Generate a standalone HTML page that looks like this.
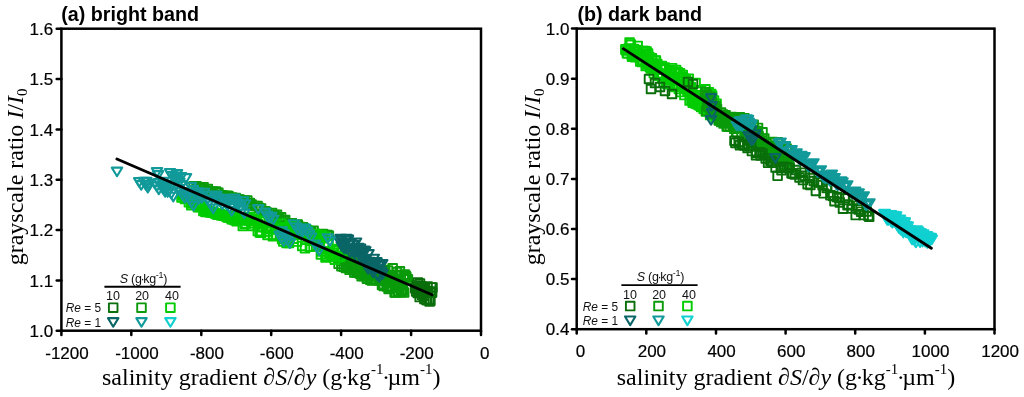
<!DOCTYPE html>
<html><head><meta charset="utf-8"><style>
html,body{margin:0;padding:0;background:#fff;width:1024px;height:397px;overflow:hidden}
svg{display:block}
.q{fill:none;stroke-width:1.9;stroke-linejoin:round}
.t{fill:none;stroke-width:2.1;stroke-linejoin:round}
.dg{stroke:#0a6e0a}
.mg{stroke:#0a9a0a}
.bg{stroke:#00cc00}
.dt{stroke:#0a6666}
.mt{stroke:#129a9a}
.cy{stroke:#10d0d0}
.ax{stroke:#000;stroke-width:2.5;stroke-linecap:round}
.tk{font-family:"Liberation Sans",Arial,sans-serif;font-size:17px;fill:#000;stroke:#000;stroke-width:0.2px}
.lg{font-family:"Liberation Sans",Arial,sans-serif;font-size:12.5px;fill:#111}
.lg2{font-family:"Liberation Sans",Arial,sans-serif;font-size:11.9px;fill:#111}
.ti{font-family:"Liberation Sans",Arial,sans-serif;font-size:19.7px;font-weight:bold;fill:#000}
.al{font-family:"Liberation Serif","Times New Roman",serif;font-size:24px;fill:#000}
</style></head><body>
<svg width="1024" height="397" viewBox="0 0 1024 397">
<path class="q mg" d="M189.4 182.0h8.6v8.6h-8.6z"/>
<path class="q mg" d="M192.2 182.0h8.6v8.6h-8.6z"/>
<path class="q mg" d="M194.0 183.4h8.6v8.6h-8.6z"/>
<path class="q mg" d="M195.1 184.1h8.6v8.6h-8.6z"/>
<path class="q mg" d="M197.1 184.0h8.6v8.6h-8.6z"/>
<path class="q mg" d="M199.3 182.9h8.6v8.6h-8.6z"/>
<path class="q mg" d="M202.1 186.5h8.6v8.6h-8.6z"/>
<path class="q mg" d="M203.6 184.7h8.6v8.6h-8.6z"/>
<path class="q mg" d="M206.7 188.3h8.6v8.6h-8.6z"/>
<path class="q mg" d="M208.7 187.2h8.6v8.6h-8.6z"/>
<path class="q mg" d="M211.7 187.2h8.6v8.6h-8.6z"/>
<path class="q mg" d="M213.5 188.6h8.6v8.6h-8.6z"/>
<path class="q mg" d="M214.1 188.4h8.6v8.6h-8.6z"/>
<path class="q mg" d="M216.5 191.0h8.6v8.6h-8.6z"/>
<path class="q mg" d="M218.4 191.1h8.6v8.6h-8.6z"/>
<path class="q mg" d="M221.4 191.6h8.6v8.6h-8.6z"/>
<path class="q mg" d="M223.3 191.4h8.6v8.6h-8.6z"/>
<path class="q mg" d="M224.4 191.9h8.6v8.6h-8.6z"/>
<path class="q mg" d="M227.8 193.2h8.6v8.6h-8.6z"/>
<path class="q mg" d="M229.1 193.9h8.6v8.6h-8.6z"/>
<path class="q mg" d="M231.5 193.7h8.6v8.6h-8.6z"/>
<path class="q mg" d="M234.3 195.4h8.6v8.6h-8.6z"/>
<path class="q mg" d="M235.2 195.3h8.6v8.6h-8.6z"/>
<path class="q mg" d="M237.9 197.2h8.6v8.6h-8.6z"/>
<path class="q mg" d="M240.4 196.1h8.6v8.6h-8.6z"/>
<path class="q mg" d="M243.0 196.3h8.6v8.6h-8.6z"/>
<path class="q mg" d="M243.9 199.1h8.6v8.6h-8.6z"/>
<path class="q mg" d="M245.5 198.6h8.6v8.6h-8.6z"/>
<path class="q mg" d="M247.3 200.2h8.6v8.6h-8.6z"/>
<path class="q mg" d="M250.9 201.6h8.6v8.6h-8.6z"/>
<path class="q mg" d="M253.3 201.7h8.6v8.6h-8.6z"/>
<path class="q mg" d="M255.0 203.7h8.6v8.6h-8.6z"/>
<path class="q mg" d="M256.8 204.1h8.6v8.6h-8.6z"/>
<path class="q mg" d="M259.5 207.4h8.6v8.6h-8.6z"/>
<path class="q mg" d="M260.8 206.9h8.6v8.6h-8.6z"/>
<path class="q mg" d="M262.0 207.7h8.6v8.6h-8.6z"/>
<path class="q mg" d="M265.3 210.5h8.6v8.6h-8.6z"/>
<path class="q mg" d="M267.8 208.8h8.6v8.6h-8.6z"/>
<path class="q mg" d="M269.0 210.9h8.6v8.6h-8.6z"/>
<path class="q mg" d="M270.3 210.8h8.6v8.6h-8.6z"/>
<path class="q mg" d="M272.7 210.5h8.6v8.6h-8.6z"/>
<path class="q mg" d="M274.6 214.0h8.6v8.6h-8.6z"/>
<path class="q mg" d="M276.8 213.0h8.6v8.6h-8.6z"/>
<path class="q mg" d="M279.4 216.8h8.6v8.6h-8.6z"/>
<path class="q mg" d="M280.9 215.8h8.6v8.6h-8.6z"/>
<path class="q mg" d="M283.9 219.0h8.6v8.6h-8.6z"/>
<path class="q mg" d="M286.6 220.2h8.6v8.6h-8.6z"/>
<path class="q mg" d="M287.6 218.9h8.6v8.6h-8.6z"/>
<path class="q mg" d="M289.8 221.8h8.6v8.6h-8.6z"/>
<path class="q mg" d="M293.2 220.3h8.6v8.6h-8.6z"/>
<path class="q mg" d="M293.6 220.8h8.6v8.6h-8.6z"/>
<path class="q mg" d="M295.8 222.7h8.6v8.6h-8.6z"/>
<path class="q mg" d="M298.7 222.9h8.6v8.6h-8.6z"/>
<path class="q mg" d="M299.5 223.9h8.6v8.6h-8.6z"/>
<path class="q mg" d="M302.4 225.6h8.6v8.6h-8.6z"/>
<path class="q mg" d="M305.7 227.5h8.6v8.6h-8.6z"/>
<path class="q mg" d="M306.9 227.6h8.6v8.6h-8.6z"/>
<path class="q mg" d="M309.3 226.4h8.6v8.6h-8.6z"/>
<path class="q mg" d="M311.9 230.3h8.6v8.6h-8.6z"/>
<path class="q mg" d="M313.9 231.2h8.6v8.6h-8.6z"/>
<path class="q mg" d="M315.0 230.0h8.6v8.6h-8.6z"/>
<path class="q mg" d="M316.5 231.4h8.6v8.6h-8.6z"/>
<path class="q mg" d="M318.5 229.7h8.6v8.6h-8.6z"/>
<path class="q mg" d="M320.9 230.6h8.6v8.6h-8.6z"/>
<path class="q mg" d="M323.2 230.8h8.6v8.6h-8.6z"/>
<path class="q mg" d="M324.6 231.5h8.6v8.6h-8.6z"/>
<path class="q mg" d="M333.8 253.5h8.6v8.6h-8.6z"/>
<path class="q mg" d="M334.3 259.5h8.6v8.6h-8.6z"/>
<path class="q mg" d="M335.2 251.8h8.6v8.6h-8.6z"/>
<path class="q mg" d="M335.6 254.2h8.6v8.6h-8.6z"/>
<path class="q mg" d="M336.2 252.1h8.6v8.6h-8.6z"/>
<path class="q mg" d="M337.1 262.0h8.6v8.6h-8.6z"/>
<path class="q mg" d="M337.5 256.6h8.6v8.6h-8.6z"/>
<path class="q mg" d="M337.8 252.7h8.6v8.6h-8.6z"/>
<path class="q mg" d="M338.6 254.8h8.6v8.6h-8.6z"/>
<path class="q mg" d="M339.4 254.1h8.6v8.6h-8.6z"/>
<path class="q mg" d="M339.5 262.5h8.6v8.6h-8.6z"/>
<path class="q mg" d="M340.4 254.5h8.6v8.6h-8.6z"/>
<path class="q mg" d="M341.0 253.5h8.6v8.6h-8.6z"/>
<path class="q mg" d="M341.6 263.6h8.6v8.6h-8.6z"/>
<path class="q mg" d="M342.4 261.1h8.6v8.6h-8.6z"/>
<path class="q mg" d="M342.6 257.8h8.6v8.6h-8.6z"/>
<path class="q mg" d="M343.1 262.2h8.6v8.6h-8.6z"/>
<path class="q mg" d="M343.9 262.6h8.6v8.6h-8.6z"/>
<path class="q mg" d="M344.4 257.2h8.6v8.6h-8.6z"/>
<path class="q mg" d="M345.3 265.5h8.6v8.6h-8.6z"/>
<path class="q mg" d="M345.9 263.9h8.6v8.6h-8.6z"/>
<path class="q mg" d="M346.4 263.5h8.6v8.6h-8.6z"/>
<path class="q mg" d="M346.7 261.3h8.6v8.6h-8.6z"/>
<path class="q mg" d="M347.3 256.3h8.6v8.6h-8.6z"/>
<path class="q mg" d="M347.7 259.2h8.6v8.6h-8.6z"/>
<path class="q mg" d="M348.4 264.1h8.6v8.6h-8.6z"/>
<path class="q mg" d="M349.4 261.8h8.6v8.6h-8.6z"/>
<path class="q mg" d="M350.0 268.3h8.6v8.6h-8.6z"/>
<path class="q mg" d="M350.6 261.4h8.6v8.6h-8.6z"/>
<path class="q mg" d="M350.7 259.8h8.6v8.6h-8.6z"/>
<path class="q mg" d="M351.3 259.8h8.6v8.6h-8.6z"/>
<path class="q mg" d="M352.1 268.5h8.6v8.6h-8.6z"/>
<path class="q mg" d="M352.9 263.8h8.6v8.6h-8.6z"/>
<path class="q mg" d="M353.3 267.9h8.6v8.6h-8.6z"/>
<path class="q mg" d="M353.6 266.3h8.6v8.6h-8.6z"/>
<path class="q mg" d="M354.6 268.4h8.6v8.6h-8.6z"/>
<path class="q mg" d="M355.1 264.8h8.6v8.6h-8.6z"/>
<path class="q mg" d="M355.4 268.9h8.6v8.6h-8.6z"/>
<path class="q mg" d="M356.1 269.4h8.6v8.6h-8.6z"/>
<path class="q mg" d="M357.0 264.6h8.6v8.6h-8.6z"/>
<path class="q mg" d="M357.3 272.0h8.6v8.6h-8.6z"/>
<path class="q mg" d="M358.0 262.0h8.6v8.6h-8.6z"/>
<path class="q mg" d="M358.3 261.9h8.6v8.6h-8.6z"/>
<path class="q mg" d="M359.3 271.2h8.6v8.6h-8.6z"/>
<path class="q mg" d="M359.5 271.6h8.6v8.6h-8.6z"/>
<path class="q mg" d="M360.5 269.8h8.6v8.6h-8.6z"/>
<path class="q mg" d="M360.7 268.4h8.6v8.6h-8.6z"/>
<path class="q mg" d="M361.2 261.0h8.6v8.6h-8.6z"/>
<path class="q mg" d="M362.3 270.3h8.6v8.6h-8.6z"/>
<path class="q mg" d="M362.6 274.5h8.6v8.6h-8.6z"/>
<path class="q mg" d="M363.1 273.8h8.6v8.6h-8.6z"/>
<path class="q mg" d="M363.9 264.3h8.6v8.6h-8.6z"/>
<path class="q mg" d="M364.2 265.5h8.6v8.6h-8.6z"/>
<path class="q mg" d="M364.8 270.1h8.6v8.6h-8.6z"/>
<path class="q mg" d="M365.4 267.7h8.6v8.6h-8.6z"/>
<path class="q mg" d="M365.9 275.4h8.6v8.6h-8.6z"/>
<path class="q mg" d="M366.6 268.6h8.6v8.6h-8.6z"/>
<path class="q mg" d="M367.3 275.8h8.6v8.6h-8.6z"/>
<path class="q mg" d="M367.8 276.2h8.6v8.6h-8.6z"/>
<path class="q mg" d="M368.4 270.3h8.6v8.6h-8.6z"/>
<path class="q mg" d="M369.0 262.1h8.6v8.6h-8.6z"/>
<path class="q mg" d="M369.5 264.9h8.6v8.6h-8.6z"/>
<path class="q mg" d="M369.9 275.1h8.6v8.6h-8.6z"/>
<path class="q mg" d="M370.6 269.9h8.6v8.6h-8.6z"/>
<path class="q mg" d="M371.5 271.5h8.6v8.6h-8.6z"/>
<path class="q mg" d="M371.8 271.0h8.6v8.6h-8.6z"/>
<path class="q mg" d="M372.5 275.7h8.6v8.6h-8.6z"/>
<path class="q mg" d="M372.8 272.0h8.6v8.6h-8.6z"/>
<path class="q mg" d="M373.5 267.2h8.6v8.6h-8.6z"/>
<path class="q mg" d="M374.4 271.5h8.6v8.6h-8.6z"/>
<path class="q mg" d="M374.9 276.1h8.6v8.6h-8.6z"/>
<path class="q mg" d="M375.6 270.7h8.6v8.6h-8.6z"/>
<path class="q mg" d="M376.1 271.9h8.6v8.6h-8.6z"/>
<path class="q mg" d="M376.6 275.5h8.6v8.6h-8.6z"/>
<path class="q mg" d="M377.1 272.8h8.6v8.6h-8.6z"/>
<path class="q mg" d="M377.7 280.7h8.6v8.6h-8.6z"/>
<path class="q mg" d="M378.4 279.8h8.6v8.6h-8.6z"/>
<path class="q mg" d="M379.2 268.0h8.6v8.6h-8.6z"/>
<path class="q mg" d="M379.5 281.6h8.6v8.6h-8.6z"/>
<path class="q mg" d="M380.3 265.8h8.6v8.6h-8.6z"/>
<path class="q mg" d="M380.4 272.0h8.6v8.6h-8.6z"/>
<path class="q mg" d="M381.0 268.0h8.6v8.6h-8.6z"/>
<path class="q mg" d="M381.6 277.0h8.6v8.6h-8.6z"/>
<path class="q mg" d="M382.6 282.2h8.6v8.6h-8.6z"/>
<path class="q mg" d="M382.8 278.4h8.6v8.6h-8.6z"/>
<path class="q mg" d="M383.7 266.3h8.6v8.6h-8.6z"/>
<path class="q mg" d="M384.4 284.6h8.6v8.6h-8.6z"/>
<path class="q mg" d="M384.6 284.4h8.6v8.6h-8.6z"/>
<path class="q mg" d="M385.3 274.3h8.6v8.6h-8.6z"/>
<path class="q mg" d="M386.2 282.5h8.6v8.6h-8.6z"/>
<path class="q mg" d="M386.3 273.3h8.6v8.6h-8.6z"/>
<path class="q mg" d="M387.1 271.4h8.6v8.6h-8.6z"/>
<path class="q mg" d="M387.5 271.0h8.6v8.6h-8.6z"/>
<path class="q mg" d="M388.4 264.0h8.6v8.6h-8.6z"/>
<path class="q mg" d="M388.9 274.2h8.6v8.6h-8.6z"/>
<path class="q mg" d="M389.1 271.6h8.6v8.6h-8.6z"/>
<path class="q mg" d="M390.1 276.3h8.6v8.6h-8.6z"/>
<path class="q mg" d="M390.3 288.1h8.6v8.6h-8.6z"/>
<path class="q mg" d="M391.3 288.1h8.6v8.6h-8.6z"/>
<path class="q mg" d="M391.5 270.6h8.6v8.6h-8.6z"/>
<path class="q mg" d="M392.1 283.4h8.6v8.6h-8.6z"/>
<path class="q mg" d="M392.8 267.7h8.6v8.6h-8.6z"/>
<path class="q mg" d="M393.4 286.9h8.6v8.6h-8.6z"/>
<path class="q mg" d="M394.3 271.3h8.6v8.6h-8.6z"/>
<path class="q mg" d="M394.5 287.2h8.6v8.6h-8.6z"/>
<path class="q mg" d="M395.3 282.1h8.6v8.6h-8.6z"/>
<path class="q mg" d="M395.6 267.0h8.6v8.6h-8.6z"/>
<path class="q mg" d="M396.5 275.9h8.6v8.6h-8.6z"/>
<path class="q mg" d="M396.7 287.9h8.6v8.6h-8.6z"/>
<path class="q mg" d="M397.7 284.9h8.6v8.6h-8.6z"/>
<path class="q mg" d="M397.9 286.2h8.6v8.6h-8.6z"/>
<path class="q mg" d="M398.5 286.4h8.6v8.6h-8.6z"/>
<path class="q mg" d="M399.3 274.7h8.6v8.6h-8.6z"/>
<path class="q mg" d="M399.9 288.1h8.6v8.6h-8.6z"/>
<path class="q mg" d="M400.4 270.3h8.6v8.6h-8.6z"/>
<path class="q mg" d="M401.1 273.0h8.6v8.6h-8.6z"/>
<path class="q mg" d="M401.4 271.4h8.6v8.6h-8.6z"/>
<path class="q mg" d="M402.0 272.5h8.6v8.6h-8.6z"/>
<path class="q mg" d="M402.7 275.0h8.6v8.6h-8.6z"/>
<path class="q mg" d="M403.6 274.9h8.6v8.6h-8.6z"/>
<path class="q bg" d="M177.2 193.1h8.6v8.6h-8.6z"/>
<path class="q bg" d="M178.1 191.3h8.6v8.6h-8.6z"/>
<path class="q bg" d="M179.1 190.5h8.6v8.6h-8.6z"/>
<path class="q bg" d="M180.6 194.7h8.6v8.6h-8.6z"/>
<path class="q bg" d="M181.1 193.7h8.6v8.6h-8.6z"/>
<path class="q bg" d="M182.9 188.4h8.6v8.6h-8.6z"/>
<path class="q bg" d="M183.9 192.3h8.6v8.6h-8.6z"/>
<path class="q bg" d="M184.6 197.9h8.6v8.6h-8.6z"/>
<path class="q bg" d="M185.5 192.9h8.6v8.6h-8.6z"/>
<path class="q bg" d="M186.9 201.0h8.6v8.6h-8.6z"/>
<path class="q bg" d="M187.6 199.2h8.6v8.6h-8.6z"/>
<path class="q bg" d="M189.0 197.4h8.6v8.6h-8.6z"/>
<path class="q bg" d="M189.7 194.1h8.6v8.6h-8.6z"/>
<path class="q bg" d="M190.4 192.0h8.6v8.6h-8.6z"/>
<path class="q bg" d="M191.5 200.5h8.6v8.6h-8.6z"/>
<path class="q bg" d="M192.7 195.0h8.6v8.6h-8.6z"/>
<path class="q bg" d="M193.6 203.0h8.6v8.6h-8.6z"/>
<path class="q bg" d="M195.5 202.6h8.6v8.6h-8.6z"/>
<path class="q bg" d="M195.9 199.1h8.6v8.6h-8.6z"/>
<path class="q bg" d="M197.0 201.8h8.6v8.6h-8.6z"/>
<path class="q bg" d="M197.9 202.3h8.6v8.6h-8.6z"/>
<path class="q bg" d="M199.1 206.8h8.6v8.6h-8.6z"/>
<path class="q bg" d="M200.9 205.1h8.6v8.6h-8.6z"/>
<path class="q bg" d="M201.2 207.7h8.6v8.6h-8.6z"/>
<path class="q bg" d="M202.3 205.1h8.6v8.6h-8.6z"/>
<path class="q bg" d="M203.0 205.8h8.6v8.6h-8.6z"/>
<path class="q bg" d="M204.5 207.4h8.6v8.6h-8.6z"/>
<path class="q bg" d="M205.3 207.9h8.6v8.6h-8.6z"/>
<path class="q bg" d="M206.2 207.6h8.6v8.6h-8.6z"/>
<path class="q bg" d="M207.3 208.2h8.6v8.6h-8.6z"/>
<path class="q bg" d="M208.3 207.5h8.6v8.6h-8.6z"/>
<path class="q bg" d="M209.6 208.3h8.6v8.6h-8.6z"/>
<path class="q bg" d="M211.0 209.3h8.6v8.6h-8.6z"/>
<path class="q bg" d="M212.2 209.8h8.6v8.6h-8.6z"/>
<path class="q bg" d="M213.2 210.5h8.6v8.6h-8.6z"/>
<path class="q bg" d="M213.9 209.5h8.6v8.6h-8.6z"/>
<path class="q bg" d="M215.6 209.6h8.6v8.6h-8.6z"/>
<path class="q bg" d="M216.4 210.6h8.6v8.6h-8.6z"/>
<path class="q bg" d="M216.7 210.9h8.6v8.6h-8.6z"/>
<path class="q bg" d="M218.7 211.0h8.6v8.6h-8.6z"/>
<path class="q bg" d="M219.5 211.3h8.6v8.6h-8.6z"/>
<path class="q bg" d="M220.0 211.1h8.6v8.6h-8.6z"/>
<path class="q bg" d="M221.4 211.9h8.6v8.6h-8.6z"/>
<path class="q bg" d="M222.8 212.6h8.6v8.6h-8.6z"/>
<path class="q bg" d="M223.6 213.2h8.6v8.6h-8.6z"/>
<path class="q bg" d="M224.8 213.2h8.6v8.6h-8.6z"/>
<path class="q bg" d="M225.3 211.4h8.6v8.6h-8.6z"/>
<path class="q bg" d="M226.3 212.7h8.6v8.6h-8.6z"/>
<path class="q bg" d="M227.3 215.0h8.6v8.6h-8.6z"/>
<path class="q bg" d="M228.8 214.8h8.6v8.6h-8.6z"/>
<path class="q bg" d="M230.0 215.6h8.6v8.6h-8.6z"/>
<path class="q bg" d="M230.9 212.1h8.6v8.6h-8.6z"/>
<path class="q bg" d="M232.2 217.0h8.6v8.6h-8.6z"/>
<path class="q bg" d="M233.0 215.9h8.6v8.6h-8.6z"/>
<path class="q bg" d="M234.2 213.0h8.6v8.6h-8.6z"/>
<path class="q bg" d="M235.3 214.6h8.6v8.6h-8.6z"/>
<path class="q bg" d="M235.7 214.8h8.6v8.6h-8.6z"/>
<path class="q bg" d="M237.4 214.5h8.6v8.6h-8.6z"/>
<path class="q bg" d="M238.5 221.6h8.6v8.6h-8.6z"/>
<path class="q bg" d="M239.3 216.3h8.6v8.6h-8.6z"/>
<path class="q bg" d="M240.3 219.4h8.6v8.6h-8.6z"/>
<path class="q bg" d="M241.7 219.1h8.6v8.6h-8.6z"/>
<path class="q bg" d="M242.6 213.5h8.6v8.6h-8.6z"/>
<path class="q bg" d="M243.1 215.5h8.6v8.6h-8.6z"/>
<path class="q bg" d="M244.8 216.2h8.6v8.6h-8.6z"/>
<path class="q bg" d="M245.7 212.8h8.6v8.6h-8.6z"/>
<path class="q bg" d="M246.2 216.0h8.6v8.6h-8.6z"/>
<path class="q bg" d="M247.9 221.6h8.6v8.6h-8.6z"/>
<path class="q bg" d="M248.9 216.6h8.6v8.6h-8.6z"/>
<path class="q bg" d="M249.8 219.0h8.6v8.6h-8.6z"/>
<path class="q bg" d="M250.8 214.4h8.6v8.6h-8.6z"/>
<path class="q bg" d="M252.3 215.6h8.6v8.6h-8.6z"/>
<path class="q bg" d="M253.5 226.8h8.6v8.6h-8.6z"/>
<path class="q bg" d="M253.5 219.6h8.6v8.6h-8.6z"/>
<path class="q bg" d="M255.4 228.1h8.6v8.6h-8.6z"/>
<path class="q bg" d="M256.1 217.2h8.6v8.6h-8.6z"/>
<path class="q bg" d="M256.9 228.4h8.6v8.6h-8.6z"/>
<path class="q bg" d="M257.9 223.0h8.6v8.6h-8.6z"/>
<path class="q bg" d="M258.9 222.5h8.6v8.6h-8.6z"/>
<path class="q bg" d="M260.8 216.9h8.6v8.6h-8.6z"/>
<path class="q bg" d="M261.7 223.6h8.6v8.6h-8.6z"/>
<path class="q bg" d="M262.8 227.3h8.6v8.6h-8.6z"/>
<path class="q bg" d="M263.2 230.7h8.6v8.6h-8.6z"/>
<path class="q bg" d="M264.5 216.6h8.6v8.6h-8.6z"/>
<path class="q bg" d="M265.1 224.8h8.6v8.6h-8.6z"/>
<path class="q bg" d="M266.6 222.0h8.6v8.6h-8.6z"/>
<path class="q bg" d="M267.3 222.9h8.6v8.6h-8.6z"/>
<path class="q bg" d="M268.6 231.9h8.6v8.6h-8.6z"/>
<path class="q bg" d="M269.3 230.6h8.6v8.6h-8.6z"/>
<path class="q bg" d="M271.2 219.8h8.6v8.6h-8.6z"/>
<path class="q bg" d="M272.3 230.8h8.6v8.6h-8.6z"/>
<path class="q bg" d="M273.4 223.3h8.6v8.6h-8.6z"/>
<path class="q bg" d="M273.9 225.3h8.6v8.6h-8.6z"/>
<path class="q bg" d="M275.6 229.5h8.6v8.6h-8.6z"/>
<path class="q bg" d="M276.0 226.5h8.6v8.6h-8.6z"/>
<path class="q bg" d="M276.9 219.4h8.6v8.6h-8.6z"/>
<path class="q bg" d="M277.8 234.8h8.6v8.6h-8.6z"/>
<path class="q bg" d="M279.0 237.2h8.6v8.6h-8.6z"/>
<path class="q bg" d="M280.1 224.3h8.6v8.6h-8.6z"/>
<path class="q bg" d="M281.4 223.0h8.6v8.6h-8.6z"/>
<path class="q bg" d="M282.3 238.8h8.6v8.6h-8.6z"/>
<path class="q bg" d="M283.9 236.4h8.6v8.6h-8.6z"/>
<path class="q bg" d="M284.7 238.7h8.6v8.6h-8.6z"/>
<path class="q bg" d="M286.0 231.5h8.6v8.6h-8.6z"/>
<path class="q bg" d="M286.9 221.1h8.6v8.6h-8.6z"/>
<path class="q bg" d="M287.9 229.9h8.6v8.6h-8.6z"/>
<path class="q bg" d="M289.0 234.4h8.6v8.6h-8.6z"/>
<path class="q bg" d="M289.6 221.6h8.6v8.6h-8.6z"/>
<path class="q bg" d="M291.3 223.6h8.6v8.6h-8.6z"/>
<path class="q bg" d="M291.9 228.5h8.6v8.6h-8.6z"/>
<path class="q bg" d="M292.7 237.3h8.6v8.6h-8.6z"/>
<path class="q bg" d="M294.5 227.3h8.6v8.6h-8.6z"/>
<path class="q bg" d="M295.2 228.3h8.6v8.6h-8.6z"/>
<path class="q bg" d="M296.2 230.5h8.6v8.6h-8.6z"/>
<path class="q bg" d="M296.8 225.8h8.6v8.6h-8.6z"/>
<path class="q bg" d="M297.9 241.7h8.6v8.6h-8.6z"/>
<path class="q bg" d="M299.2 227.6h8.6v8.6h-8.6z"/>
<path class="q bg" d="M300.7 244.0h8.6v8.6h-8.6z"/>
<path class="q bg" d="M301.3 226.4h8.6v8.6h-8.6z"/>
<path class="q bg" d="M302.1 225.6h8.6v8.6h-8.6z"/>
<path class="q bg" d="M303.3 225.9h8.6v8.6h-8.6z"/>
<path class="q bg" d="M304.2 229.5h8.6v8.6h-8.6z"/>
<path class="q bg" d="M305.6 242.4h8.6v8.6h-8.6z"/>
<path class="q bg" d="M306.9 233.7h8.6v8.6h-8.6z"/>
<path class="q bg" d="M307.6 236.4h8.6v8.6h-8.6z"/>
<path class="q bg" d="M308.6 233.1h8.6v8.6h-8.6z"/>
<path class="q bg" d="M309.3 232.2h8.6v8.6h-8.6z"/>
<path class="q bg" d="M311.3 229.8h8.6v8.6h-8.6z"/>
<path class="q bg" d="M311.9 241.7h8.6v8.6h-8.6z"/>
<path class="q bg" d="M313.3 232.9h8.6v8.6h-8.6z"/>
<path class="q bg" d="M313.7 233.9h8.6v8.6h-8.6z"/>
<path class="q bg" d="M314.9 239.4h8.6v8.6h-8.6z"/>
<path class="q bg" d="M316.6 250.2h8.6v8.6h-8.6z"/>
<path class="q bg" d="M317.5 230.7h8.6v8.6h-8.6z"/>
<path class="q bg" d="M317.7 247.2h8.6v8.6h-8.6z"/>
<path class="q bg" d="M319.7 242.6h8.6v8.6h-8.6z"/>
<path class="q bg" d="M320.4 232.5h8.6v8.6h-8.6z"/>
<path class="q bg" d="M321.2 253.2h8.6v8.6h-8.6z"/>
<path class="q bg" d="M322.7 252.1h8.6v8.6h-8.6z"/>
<path class="q bg" d="M323.9 240.3h8.6v8.6h-8.6z"/>
<path class="q bg" d="M324.1 238.5h8.6v8.6h-8.6z"/>
<path class="q bg" d="M325.6 249.6h8.6v8.6h-8.6z"/>
<path class="q bg" d="M327.1 250.9h8.6v8.6h-8.6z"/>
<path class="q bg" d="M327.8 252.0h8.6v8.6h-8.6z"/>
<path class="q bg" d="M328.7 248.6h8.6v8.6h-8.6z"/>
<path class="q bg" d="M329.3 252.7h8.6v8.6h-8.6z"/>
<path class="q bg" d="M330.5 255.4h8.6v8.6h-8.6z"/>
<path class="q bg" d="M332.0 246.3h8.6v8.6h-8.6z"/>
<path class="q bg" d="M332.5 245.8h8.6v8.6h-8.6z"/>
<path class="q bg" d="M334.1 253.0h8.6v8.6h-8.6z"/>
<path class="q bg" d="M334.6 244.7h8.6v8.6h-8.6z"/>
<path class="q bg" d="M336.1 252.2h8.6v8.6h-8.6z"/>
<path class="q bg" d="M337.0 248.3h8.6v8.6h-8.6z"/>
<path class="q bg" d="M338.3 246.6h8.6v8.6h-8.6z"/>
<path class="q dg" d="M410.9 284.0h8.6v8.6h-8.6z"/>
<path class="q dg" d="M411.8 287.2h8.6v8.6h-8.6z"/>
<path class="q dg" d="M412.3 284.7h8.6v8.6h-8.6z"/>
<path class="q dg" d="M412.5 281.2h8.6v8.6h-8.6z"/>
<path class="q dg" d="M413.4 288.7h8.6v8.6h-8.6z"/>
<path class="q dg" d="M413.6 278.2h8.6v8.6h-8.6z"/>
<path class="q dg" d="M414.2 288.5h8.6v8.6h-8.6z"/>
<path class="q dg" d="M414.7 282.3h8.6v8.6h-8.6z"/>
<path class="q dg" d="M415.4 292.8h8.6v8.6h-8.6z"/>
<path class="q dg" d="M415.7 279.2h8.6v8.6h-8.6z"/>
<path class="q dg" d="M416.3 285.4h8.6v8.6h-8.6z"/>
<path class="q dg" d="M417.1 282.3h8.6v8.6h-8.6z"/>
<path class="q dg" d="M417.7 290.7h8.6v8.6h-8.6z"/>
<path class="q dg" d="M418.1 282.8h8.6v8.6h-8.6z"/>
<path class="q dg" d="M418.9 284.7h8.6v8.6h-8.6z"/>
<path class="q dg" d="M419.3 283.6h8.6v8.6h-8.6z"/>
<path class="q dg" d="M419.5 291.7h8.6v8.6h-8.6z"/>
<path class="q dg" d="M420.1 294.8h8.6v8.6h-8.6z"/>
<path class="q dg" d="M420.8 283.5h8.6v8.6h-8.6z"/>
<path class="q dg" d="M421.2 287.1h8.6v8.6h-8.6z"/>
<path class="q dg" d="M422.0 295.3h8.6v8.6h-8.6z"/>
<path class="q dg" d="M422.2 287.1h8.6v8.6h-8.6z"/>
<path class="q dg" d="M422.8 296.0h8.6v8.6h-8.6z"/>
<path class="q dg" d="M423.3 282.3h8.6v8.6h-8.6z"/>
<path class="q dg" d="M423.8 287.6h8.6v8.6h-8.6z"/>
<path class="q dg" d="M424.8 295.2h8.6v8.6h-8.6z"/>
<path class="q dg" d="M425.3 297.1h8.6v8.6h-8.6z"/>
<path class="q dg" d="M425.9 287.2h8.6v8.6h-8.6z"/>
<path class="q dg" d="M426.1 296.4h8.6v8.6h-8.6z"/>
<path class="q dg" d="M426.9 283.1h8.6v8.6h-8.6z"/>
<path class="q dg" d="M427.4 288.4h8.6v8.6h-8.6z"/>
<path class="q dg" d="M427.8 287.9h8.6v8.6h-8.6z"/>
<path class="q dg" d="M428.2 283.1h8.6v8.6h-8.6z"/>
<path class="t dt" d="M334.0 236.7h10.4l-5.2 8.6z"/>
<path class="t dt" d="M335.4 234.9h10.4l-5.2 8.6z"/>
<path class="t dt" d="M336.2 235.9h10.4l-5.2 8.6z"/>
<path class="t dt" d="M336.5 242.2h10.4l-5.2 8.6z"/>
<path class="t dt" d="M337.7 238.6h10.4l-5.2 8.6z"/>
<path class="t dt" d="M337.9 239.2h10.4l-5.2 8.6z"/>
<path class="t dt" d="M339.0 244.7h10.4l-5.2 8.6z"/>
<path class="t dt" d="M339.7 238.5h10.4l-5.2 8.6z"/>
<path class="t dt" d="M341.0 234.9h10.4l-5.2 8.6z"/>
<path class="t dt" d="M341.5 244.9h10.4l-5.2 8.6z"/>
<path class="t dt" d="M342.6 235.5h10.4l-5.2 8.6z"/>
<path class="t dt" d="M342.8 235.9h10.4l-5.2 8.6z"/>
<path class="t dt" d="M344.3 239.0h10.4l-5.2 8.6z"/>
<path class="t dt" d="M345.0 248.3h10.4l-5.2 8.6z"/>
<path class="t dt" d="M345.5 239.7h10.4l-5.2 8.6z"/>
<path class="t dt" d="M346.8 245.4h10.4l-5.2 8.6z"/>
<path class="t dt" d="M347.1 247.0h10.4l-5.2 8.6z"/>
<path class="t dt" d="M347.9 240.8h10.4l-5.2 8.6z"/>
<path class="t dt" d="M348.5 248.4h10.4l-5.2 8.6z"/>
<path class="t dt" d="M350.0 247.5h10.4l-5.2 8.6z"/>
<path class="t dt" d="M350.9 238.5h10.4l-5.2 8.6z"/>
<path class="t dt" d="M351.1 245.8h10.4l-5.2 8.6z"/>
<path class="t dt" d="M352.5 254.6h10.4l-5.2 8.6z"/>
<path class="t dt" d="M352.9 243.8h10.4l-5.2 8.6z"/>
<path class="t dt" d="M353.7 248.3h10.4l-5.2 8.6z"/>
<path class="t dt" d="M354.9 244.6h10.4l-5.2 8.6z"/>
<path class="t dt" d="M355.6 253.8h10.4l-5.2 8.6z"/>
<path class="t dt" d="M356.5 255.0h10.4l-5.2 8.6z"/>
<path class="t dt" d="M357.1 248.7h10.4l-5.2 8.6z"/>
<path class="t dt" d="M357.7 249.7h10.4l-5.2 8.6z"/>
<path class="t dt" d="M358.9 246.5h10.4l-5.2 8.6z"/>
<path class="t dt" d="M359.2 256.9h10.4l-5.2 8.6z"/>
<path class="t dt" d="M360.1 247.3h10.4l-5.2 8.6z"/>
<path class="t dt" d="M360.7 255.4h10.4l-5.2 8.6z"/>
<path class="t dt" d="M361.8 263.4h10.4l-5.2 8.6z"/>
<path class="t dt" d="M363.0 265.1h10.4l-5.2 8.6z"/>
<path class="t dt" d="M363.3 250.1h10.4l-5.2 8.6z"/>
<path class="t dt" d="M364.0 257.8h10.4l-5.2 8.6z"/>
<path class="t dt" d="M365.3 258.2h10.4l-5.2 8.6z"/>
<path class="t dt" d="M365.8 258.1h10.4l-5.2 8.6z"/>
<path class="t dt" d="M366.9 264.1h10.4l-5.2 8.6z"/>
<path class="t dt" d="M367.8 268.5h10.4l-5.2 8.6z"/>
<path class="t dt" d="M368.6 254.7h10.4l-5.2 8.6z"/>
<path class="t dt" d="M369.5 259.1h10.4l-5.2 8.6z"/>
<path class="t dt" d="M370.1 261.1h10.4l-5.2 8.6z"/>
<path class="t dt" d="M371.1 258.0h10.4l-5.2 8.6z"/>
<path class="t dt" d="M371.5 259.2h10.4l-5.2 8.6z"/>
<path class="t dt" d="M372.2 271.4h10.4l-5.2 8.6z"/>
<path class="t dt" d="M373.4 261.6h10.4l-5.2 8.6z"/>
<path class="t dt" d="M374.0 273.0h10.4l-5.2 8.6z"/>
<path class="t dt" d="M375.0 260.8h10.4l-5.2 8.6z"/>
<path class="t dt" d="M376.0 267.6h10.4l-5.2 8.6z"/>
<path class="t dt" d="M377.0 260.1h10.4l-5.2 8.6z"/>
<path class="t dt" d="M377.4 270.0h10.4l-5.2 8.6z"/>
<path class="t mt" d="M134.0 178.1h10.4l-5.2 8.6z"/>
<path class="t mt" d="M136.0 181.1h10.4l-5.2 8.6z"/>
<path class="t mt" d="M141.1 177.7h10.4l-5.2 8.6z"/>
<path class="t mt" d="M143.1 180.7h10.4l-5.2 8.6z"/>
<path class="t mt" d="M138.6 177.9h10.4l-5.2 8.6z"/>
<path class="t mt" d="M140.6 180.9h10.4l-5.2 8.6z"/>
<path class="t mt" d="M142.6 183.9h10.4l-5.2 8.6z"/>
<path class="t mt" d="M149.6 179.5h10.4l-5.2 8.6z"/>
<path class="t mt" d="M151.6 182.5h10.4l-5.2 8.6z"/>
<path class="t mt" d="M153.6 185.5h10.4l-5.2 8.6z"/>
<path class="t mt" d="M153.9 179.0h10.4l-5.2 8.6z"/>
<path class="t mt" d="M155.9 182.0h10.4l-5.2 8.6z"/>
<path class="t mt" d="M157.9 185.0h10.4l-5.2 8.6z"/>
<path class="t mt" d="M159.9 188.0h10.4l-5.2 8.6z"/>
<path class="t mt" d="M158.4 182.2h10.4l-5.2 8.6z"/>
<path class="t mt" d="M160.4 185.2h10.4l-5.2 8.6z"/>
<path class="t mt" d="M162.4 188.2h10.4l-5.2 8.6z"/>
<path class="t mt" d="M158.1 177.8h10.4l-5.2 8.6z"/>
<path class="t mt" d="M160.1 180.8h10.4l-5.2 8.6z"/>
<path class="t mt" d="M162.1 183.8h10.4l-5.2 8.6z"/>
<path class="t mt" d="M164.1 186.8h10.4l-5.2 8.6z"/>
<path class="t mt" d="M166.1 189.8h10.4l-5.2 8.6z"/>
<path class="t mt" d="M168.1 192.8h10.4l-5.2 8.6z"/>
<path class="t mt" d="M170.2 174.6h10.4l-5.2 8.6z"/>
<path class="t mt" d="M172.2 177.6h10.4l-5.2 8.6z"/>
<path class="t mt" d="M170.1 172.6h10.4l-5.2 8.6z"/>
<path class="t mt" d="M172.1 175.6h10.4l-5.2 8.6z"/>
<path class="t mt" d="M174.1 178.6h10.4l-5.2 8.6z"/>
<path class="t mt" d="M176.1 181.6h10.4l-5.2 8.6z"/>
<path class="t mt" d="M173.6 185.1h10.4l-5.2 8.6z"/>
<path class="t mt" d="M175.6 188.1h10.4l-5.2 8.6z"/>
<path class="t mt" d="M177.6 191.1h10.4l-5.2 8.6z"/>
<path class="t mt" d="M179.6 194.1h10.4l-5.2 8.6z"/>
<path class="t mt" d="M180.4 189.8h10.4l-5.2 8.6z"/>
<path class="t mt" d="M182.4 192.8h10.4l-5.2 8.6z"/>
<path class="t mt" d="M184.4 195.8h10.4l-5.2 8.6z"/>
<path class="t mt" d="M186.4 198.8h10.4l-5.2 8.6z"/>
<path class="t mt" d="M188.4 201.8h10.4l-5.2 8.6z"/>
<path class="t mt" d="M185.7 182.9h10.4l-5.2 8.6z"/>
<path class="t mt" d="M187.7 185.9h10.4l-5.2 8.6z"/>
<path class="t mt" d="M189.7 188.9h10.4l-5.2 8.6z"/>
<path class="t mt" d="M191.7 191.9h10.4l-5.2 8.6z"/>
<path class="t mt" d="M193.7 194.9h10.4l-5.2 8.6z"/>
<path class="t mt" d="M192.6 188.2h10.4l-5.2 8.6z"/>
<path class="t mt" d="M194.6 191.2h10.4l-5.2 8.6z"/>
<path class="t mt" d="M196.6 194.2h10.4l-5.2 8.6z"/>
<path class="t mt" d="M198.9 188.7h10.4l-5.2 8.6z"/>
<path class="t mt" d="M200.9 191.7h10.4l-5.2 8.6z"/>
<path class="t mt" d="M202.1 195.5h10.4l-5.2 8.6z"/>
<path class="t mt" d="M204.1 198.5h10.4l-5.2 8.6z"/>
<path class="t mt" d="M206.1 201.5h10.4l-5.2 8.6z"/>
<path class="t mt" d="M208.1 204.5h10.4l-5.2 8.6z"/>
<path class="t mt" d="M210.3 192.7h10.4l-5.2 8.6z"/>
<path class="t mt" d="M212.3 195.7h10.4l-5.2 8.6z"/>
<path class="t mt" d="M211.0 191.6h10.4l-5.2 8.6z"/>
<path class="t mt" d="M213.0 194.6h10.4l-5.2 8.6z"/>
<path class="t mt" d="M215.0 197.6h10.4l-5.2 8.6z"/>
<path class="t mt" d="M217.0 200.6h10.4l-5.2 8.6z"/>
<path class="t mt" d="M217.3 194.7h10.4l-5.2 8.6z"/>
<path class="t mt" d="M219.3 197.7h10.4l-5.2 8.6z"/>
<path class="t mt" d="M221.3 200.7h10.4l-5.2 8.6z"/>
<path class="t mt" d="M218.5 195.0h10.4l-5.2 8.6z"/>
<path class="t mt" d="M220.5 198.0h10.4l-5.2 8.6z"/>
<path class="t mt" d="M222.5 201.0h10.4l-5.2 8.6z"/>
<path class="t mt" d="M224.5 204.0h10.4l-5.2 8.6z"/>
<path class="t mt" d="M226.5 207.0h10.4l-5.2 8.6z"/>
<path class="t mt" d="M230.0 196.8h10.4l-5.2 8.6z"/>
<path class="t mt" d="M232.0 199.8h10.4l-5.2 8.6z"/>
<path class="t mt" d="M229.1 194.6h10.4l-5.2 8.6z"/>
<path class="t mt" d="M231.1 197.6h10.4l-5.2 8.6z"/>
<path class="t mt" d="M233.1 200.6h10.4l-5.2 8.6z"/>
<path class="t mt" d="M235.1 203.6h10.4l-5.2 8.6z"/>
<path class="t mt" d="M237.1 206.6h10.4l-5.2 8.6z"/>
<path class="t mt" d="M239.1 209.6h10.4l-5.2 8.6z"/>
<path class="t mt" d="M237.9 197.3h10.4l-5.2 8.6z"/>
<path class="t mt" d="M239.9 200.3h10.4l-5.2 8.6z"/>
<path class="t mt" d="M253.0 205.1h10.4l-5.2 8.6z"/>
<path class="t mt" d="M259.8 208.6h10.4l-5.2 8.6z"/>
<path class="t mt" d="M261.8 211.6h10.4l-5.2 8.6z"/>
<path class="t mt" d="M263.8 214.6h10.4l-5.2 8.6z"/>
<path class="t mt" d="M266.0 212.8h10.4l-5.2 8.6z"/>
<path class="t mt" d="M268.0 215.8h10.4l-5.2 8.6z"/>
<path class="t mt" d="M274.5 231.6h10.4l-5.2 8.6z"/>
<path class="t mt" d="M276.5 234.6h10.4l-5.2 8.6z"/>
<path class="t mt" d="M278.5 237.6h10.4l-5.2 8.6z"/>
<path class="t mt" d="M276.6 227.4h10.4l-5.2 8.6z"/>
<path class="t mt" d="M278.6 230.4h10.4l-5.2 8.6z"/>
<path class="t mt" d="M280.6 233.4h10.4l-5.2 8.6z"/>
<path class="t mt" d="M282.6 236.4h10.4l-5.2 8.6z"/>
<path class="t mt" d="M284.6 239.4h10.4l-5.2 8.6z"/>
<path class="t mt" d="M288.6 220.2h10.4l-5.2 8.6z"/>
<path class="t mt" d="M290.6 223.2h10.4l-5.2 8.6z"/>
<path class="t mt" d="M292.6 226.2h10.4l-5.2 8.6z"/>
<path class="t mt" d="M294.6 229.2h10.4l-5.2 8.6z"/>
<path class="t mt" d="M295.6 224.7h10.4l-5.2 8.6z"/>
<path class="t mt" d="M297.6 227.7h10.4l-5.2 8.6z"/>
<path class="t mt" d="M299.8 224.6h10.4l-5.2 8.6z"/>
<path class="t mt" d="M301.8 227.6h10.4l-5.2 8.6z"/>
<path class="t mt" d="M303.8 230.6h10.4l-5.2 8.6z"/>
<path class="t mt" d="M305.8 233.6h10.4l-5.2 8.6z"/>
<path class="t mt" d="M309.9 240.5h10.4l-5.2 8.6z"/>
<path class="t mt" d="M311.9 243.5h10.4l-5.2 8.6z"/>
<path class="t mt" d="M313.9 246.5h10.4l-5.2 8.6z"/>
<path class="t mt" d="M322.6 234.2h10.4l-5.2 8.6z"/>
<path class="t mt" d="M324.6 237.2h10.4l-5.2 8.6z"/>
<path class="t mt" d="M151.8 168.1h10.4l-5.2 8.6z"/>
<path class="t mt" d="M152.8 171.1h10.4l-5.2 8.6z"/>
<path class="t mt" d="M164.8 169.1h10.4l-5.2 8.6z"/>
<path class="t mt" d="M166.8 172.1h10.4l-5.2 8.6z"/>
<path class="t mt" d="M171.8 170.1h10.4l-5.2 8.6z"/>
<path class="t mt" d="M175.8 173.1h10.4l-5.2 8.6z"/>
<path class="t mt" d="M180.8 174.1h10.4l-5.2 8.6z"/>
<path class="t mt" d="M111.8 167.6h10.4l-5.2 8.6z"/>
<path class="q bg" d="M621.1 44.9h8.6v8.6h-8.6z"/>
<path class="q bg" d="M621.5 46.0h8.6v8.6h-8.6z"/>
<path class="q bg" d="M622.6 49.0h8.6v8.6h-8.6z"/>
<path class="q bg" d="M623.2 49.0h8.6v8.6h-8.6z"/>
<path class="q bg" d="M623.9 46.0h8.6v8.6h-8.6z"/>
<path class="q bg" d="M624.3 44.2h8.6v8.6h-8.6z"/>
<path class="q bg" d="M625.3 38.2h8.6v8.6h-8.6z"/>
<path class="q bg" d="M626.2 40.3h8.6v8.6h-8.6z"/>
<path class="q bg" d="M626.5 40.4h8.6v8.6h-8.6z"/>
<path class="q bg" d="M627.6 51.2h8.6v8.6h-8.6z"/>
<path class="q bg" d="M627.8 52.4h8.6v8.6h-8.6z"/>
<path class="q bg" d="M629.0 49.8h8.6v8.6h-8.6z"/>
<path class="q bg" d="M629.5 44.7h8.6v8.6h-8.6z"/>
<path class="q bg" d="M630.0 47.1h8.6v8.6h-8.6z"/>
<path class="q bg" d="M631.0 52.9h8.6v8.6h-8.6z"/>
<path class="q bg" d="M631.6 45.6h8.6v8.6h-8.6z"/>
<path class="q bg" d="M632.0 47.2h8.6v8.6h-8.6z"/>
<path class="q bg" d="M632.8 49.5h8.6v8.6h-8.6z"/>
<path class="q bg" d="M633.4 41.6h8.6v8.6h-8.6z"/>
<path class="q bg" d="M634.6 50.0h8.6v8.6h-8.6z"/>
<path class="q bg" d="M635.0 52.7h8.6v8.6h-8.6z"/>
<path class="q bg" d="M635.9 57.1h8.6v8.6h-8.6z"/>
<path class="q bg" d="M636.6 50.0h8.6v8.6h-8.6z"/>
<path class="q bg" d="M636.8 49.4h8.6v8.6h-8.6z"/>
<path class="q bg" d="M637.7 57.6h8.6v8.6h-8.6z"/>
<path class="q bg" d="M638.5 55.6h8.6v8.6h-8.6z"/>
<path class="q bg" d="M638.8 46.6h8.6v8.6h-8.6z"/>
<path class="q bg" d="M640.2 50.5h8.6v8.6h-8.6z"/>
<path class="q bg" d="M640.7 46.6h8.6v8.6h-8.6z"/>
<path class="q bg" d="M641.4 61.8h8.6v8.6h-8.6z"/>
<path class="q bg" d="M642.1 60.2h8.6v8.6h-8.6z"/>
<path class="q bg" d="M642.3 47.2h8.6v8.6h-8.6z"/>
<path class="q bg" d="M643.4 59.4h8.6v8.6h-8.6z"/>
<path class="q bg" d="M643.8 49.2h8.6v8.6h-8.6z"/>
<path class="q bg" d="M645.0 52.8h8.6v8.6h-8.6z"/>
<path class="q bg" d="M645.7 62.8h8.6v8.6h-8.6z"/>
<path class="q bg" d="M646.3 61.9h8.6v8.6h-8.6z"/>
<path class="q bg" d="M646.6 64.3h8.6v8.6h-8.6z"/>
<path class="q bg" d="M647.6 54.0h8.6v8.6h-8.6z"/>
<path class="q bg" d="M648.1 61.3h8.6v8.6h-8.6z"/>
<path class="q bg" d="M649.2 59.2h8.6v8.6h-8.6z"/>
<path class="q bg" d="M649.5 69.0h8.6v8.6h-8.6z"/>
<path class="q bg" d="M650.3 62.6h8.6v8.6h-8.6z"/>
<path class="q bg" d="M651.1 56.5h8.6v8.6h-8.6z"/>
<path class="q bg" d="M651.6 56.2h8.6v8.6h-8.6z"/>
<path class="q bg" d="M652.3 65.1h8.6v8.6h-8.6z"/>
<path class="q bg" d="M653.0 59.7h8.6v8.6h-8.6z"/>
<path class="q bg" d="M653.7 69.2h8.6v8.6h-8.6z"/>
<path class="q bg" d="M654.3 69.2h8.6v8.6h-8.6z"/>
<path class="q bg" d="M654.9 71.4h8.6v8.6h-8.6z"/>
<path class="q bg" d="M656.2 64.7h8.6v8.6h-8.6z"/>
<path class="q bg" d="M656.6 69.5h8.6v8.6h-8.6z"/>
<path class="q bg" d="M657.6 61.7h8.6v8.6h-8.6z"/>
<path class="q bg" d="M658.0 73.8h8.6v8.6h-8.6z"/>
<path class="q bg" d="M658.9 64.9h8.6v8.6h-8.6z"/>
<path class="q bg" d="M659.3 65.1h8.6v8.6h-8.6z"/>
<path class="q bg" d="M659.8 64.7h8.6v8.6h-8.6z"/>
<path class="q bg" d="M660.5 63.2h8.6v8.6h-8.6z"/>
<path class="q bg" d="M661.6 78.5h8.6v8.6h-8.6z"/>
<path class="q bg" d="M662.0 70.0h8.6v8.6h-8.6z"/>
<path class="q bg" d="M662.7 79.6h8.6v8.6h-8.6z"/>
<path class="q bg" d="M663.8 79.7h8.6v8.6h-8.6z"/>
<path class="q bg" d="M664.5 76.2h8.6v8.6h-8.6z"/>
<path class="q bg" d="M665.1 66.0h8.6v8.6h-8.6z"/>
<path class="q bg" d="M665.5 74.7h8.6v8.6h-8.6z"/>
<path class="q bg" d="M666.3 69.7h8.6v8.6h-8.6z"/>
<path class="q bg" d="M666.7 72.6h8.6v8.6h-8.6z"/>
<path class="q bg" d="M667.8 63.9h8.6v8.6h-8.6z"/>
<path class="q bg" d="M668.1 75.2h8.6v8.6h-8.6z"/>
<path class="q bg" d="M669.0 74.8h8.6v8.6h-8.6z"/>
<path class="q bg" d="M669.9 73.0h8.6v8.6h-8.6z"/>
<path class="q bg" d="M670.4 67.4h8.6v8.6h-8.6z"/>
<path class="q bg" d="M671.1 82.8h8.6v8.6h-8.6z"/>
<path class="q bg" d="M671.7 65.6h8.6v8.6h-8.6z"/>
<path class="q bg" d="M672.8 81.3h8.6v8.6h-8.6z"/>
<path class="q bg" d="M673.3 67.6h8.6v8.6h-8.6z"/>
<path class="q bg" d="M673.8 81.1h8.6v8.6h-8.6z"/>
<path class="q bg" d="M674.6 84.8h8.6v8.6h-8.6z"/>
<path class="q bg" d="M675.7 69.0h8.6v8.6h-8.6z"/>
<path class="q bg" d="M676.3 87.8h8.6v8.6h-8.6z"/>
<path class="q bg" d="M676.9 81.2h8.6v8.6h-8.6z"/>
<path class="q bg" d="M677.6 80.3h8.6v8.6h-8.6z"/>
<path class="q bg" d="M678.2 72.9h8.6v8.6h-8.6z"/>
<path class="q bg" d="M678.5 70.8h8.6v8.6h-8.6z"/>
<path class="q bg" d="M679.3 74.0h8.6v8.6h-8.6z"/>
<path class="q bg" d="M680.1 90.8h8.6v8.6h-8.6z"/>
<path class="q bg" d="M680.7 84.5h8.6v8.6h-8.6z"/>
<path class="q bg" d="M681.8 75.8h8.6v8.6h-8.6z"/>
<path class="q bg" d="M682.3 83.4h8.6v8.6h-8.6z"/>
<path class="q bg" d="M683.2 86.9h8.6v8.6h-8.6z"/>
<path class="q bg" d="M683.7 86.5h8.6v8.6h-8.6z"/>
<path class="q bg" d="M684.5 74.4h8.6v8.6h-8.6z"/>
<path class="q bg" d="M685.3 96.3h8.6v8.6h-8.6z"/>
<path class="q bg" d="M686.0 84.9h8.6v8.6h-8.6z"/>
<path class="q bg" d="M686.6 83.0h8.6v8.6h-8.6z"/>
<path class="q bg" d="M687.2 95.7h8.6v8.6h-8.6z"/>
<path class="q bg" d="M687.7 90.2h8.6v8.6h-8.6z"/>
<path class="q bg" d="M688.4 98.5h8.6v8.6h-8.6z"/>
<path class="q bg" d="M689.2 91.0h8.6v8.6h-8.6z"/>
<path class="q bg" d="M689.8 97.1h8.6v8.6h-8.6z"/>
<path class="q bg" d="M691.0 99.1h8.6v8.6h-8.6z"/>
<path class="q bg" d="M691.3 78.8h8.6v8.6h-8.6z"/>
<path class="q bg" d="M692.2 93.9h8.6v8.6h-8.6z"/>
<path class="q bg" d="M693.0 99.9h8.6v8.6h-8.6z"/>
<path class="q bg" d="M693.9 86.2h8.6v8.6h-8.6z"/>
<path class="q bg" d="M694.5 100.4h8.6v8.6h-8.6z"/>
<path class="q bg" d="M694.6 91.6h8.6v8.6h-8.6z"/>
<path class="q bg" d="M695.4 101.3h8.6v8.6h-8.6z"/>
<path class="q bg" d="M696.6 86.0h8.6v8.6h-8.6z"/>
<path class="q bg" d="M696.8 102.6h8.6v8.6h-8.6z"/>
<path class="q bg" d="M697.5 91.0h8.6v8.6h-8.6z"/>
<path class="q bg" d="M698.5 91.5h8.6v8.6h-8.6z"/>
<path class="q bg" d="M699.4 104.6h8.6v8.6h-8.6z"/>
<path class="q bg" d="M700.1 103.4h8.6v8.6h-8.6z"/>
<path class="q bg" d="M700.5 95.2h8.6v8.6h-8.6z"/>
<path class="q bg" d="M701.2 85.0h8.6v8.6h-8.6z"/>
<path class="q bg" d="M701.6 107.1h8.6v8.6h-8.6z"/>
<path class="q bg" d="M702.4 106.1h8.6v8.6h-8.6z"/>
<path class="q bg" d="M703.5 95.6h8.6v8.6h-8.6z"/>
<path class="q bg" d="M704.0 100.0h8.6v8.6h-8.6z"/>
<path class="q bg" d="M704.5 88.0h8.6v8.6h-8.6z"/>
<path class="q bg" d="M705.1 102.1h8.6v8.6h-8.6z"/>
<path class="q bg" d="M705.8 110.8h8.6v8.6h-8.6z"/>
<path class="q bg" d="M706.9 89.8h8.6v8.6h-8.6z"/>
<path class="q bg" d="M707.2 104.1h8.6v8.6h-8.6z"/>
<path class="q bg" d="M707.9 91.4h8.6v8.6h-8.6z"/>
<path class="q bg" d="M708.6 110.1h8.6v8.6h-8.6z"/>
<path class="q bg" d="M709.7 96.1h8.6v8.6h-8.6z"/>
<path class="q bg" d="M710.6 104.4h8.6v8.6h-8.6z"/>
<path class="q bg" d="M711.1 112.7h8.6v8.6h-8.6z"/>
<path class="q bg" d="M711.8 109.5h8.6v8.6h-8.6z"/>
<path class="q bg" d="M712.3 99.4h8.6v8.6h-8.6z"/>
<path class="q dg" d="M644.7 74.7h8.6v8.6h-8.6z"/>
<path class="q dg" d="M650.7 78.7h8.6v8.6h-8.6z"/>
<path class="q dg" d="M646.7 84.7h8.6v8.6h-8.6z"/>
<path class="q dg" d="M655.7 82.7h8.6v8.6h-8.6z"/>
<path class="q dg" d="M660.7 86.7h8.6v8.6h-8.6z"/>
<path class="q dg" d="M667.7 89.7h8.6v8.6h-8.6z"/>
<path class="q dg" d="M683.7 77.7h8.6v8.6h-8.6z"/>
<path class="q dg" d="M688.7 79.7h8.6v8.6h-8.6z"/>
<path class="q mg" d="M700.8 87.8h8.6v8.6h-8.6z"/>
<path class="q mg" d="M701.9 106.8h8.6v8.6h-8.6z"/>
<path class="q mg" d="M702.3 90.2h8.6v8.6h-8.6z"/>
<path class="q mg" d="M702.9 101.7h8.6v8.6h-8.6z"/>
<path class="q mg" d="M703.4 92.0h8.6v8.6h-8.6z"/>
<path class="q mg" d="M704.2 102.7h8.6v8.6h-8.6z"/>
<path class="q mg" d="M704.5 96.9h8.6v8.6h-8.6z"/>
<path class="q mg" d="M705.0 97.6h8.6v8.6h-8.6z"/>
<path class="q mg" d="M706.0 92.6h8.6v8.6h-8.6z"/>
<path class="q mg" d="M706.5 109.1h8.6v8.6h-8.6z"/>
<path class="q mg" d="M707.1 103.7h8.6v8.6h-8.6z"/>
<path class="q mg" d="M707.6 98.2h8.6v8.6h-8.6z"/>
<path class="q mg" d="M708.3 107.8h8.6v8.6h-8.6z"/>
<path class="q mg" d="M708.5 103.1h8.6v8.6h-8.6z"/>
<path class="q mg" d="M709.1 102.6h8.6v8.6h-8.6z"/>
<path class="q mg" d="M709.7 104.7h8.6v8.6h-8.6z"/>
<path class="q mg" d="M710.7 109.8h8.6v8.6h-8.6z"/>
<path class="q mg" d="M711.2 101.4h8.6v8.6h-8.6z"/>
<path class="q mg" d="M711.7 106.0h8.6v8.6h-8.6z"/>
<path class="q mg" d="M712.2 110.3h8.6v8.6h-8.6z"/>
<path class="q mg" d="M712.7 104.7h8.6v8.6h-8.6z"/>
<path class="q mg" d="M713.3 110.8h8.6v8.6h-8.6z"/>
<path class="q mg" d="M714.4 115.9h8.6v8.6h-8.6z"/>
<path class="q mg" d="M714.8 116.2h8.6v8.6h-8.6z"/>
<path class="q mg" d="M715.4 111.8h8.6v8.6h-8.6z"/>
<path class="q mg" d="M715.8 115.3h8.6v8.6h-8.6z"/>
<path class="q mg" d="M716.8 108.2h8.6v8.6h-8.6z"/>
<path class="q mg" d="M717.0 117.8h8.6v8.6h-8.6z"/>
<path class="q mg" d="M717.9 112.2h8.6v8.6h-8.6z"/>
<path class="q mg" d="M718.7 113.5h8.6v8.6h-8.6z"/>
<path class="q mg" d="M718.7 110.2h8.6v8.6h-8.6z"/>
<path class="q mg" d="M719.3 119.2h8.6v8.6h-8.6z"/>
<path class="q mg" d="M720.4 117.2h8.6v8.6h-8.6z"/>
<path class="q mg" d="M720.7 115.9h8.6v8.6h-8.6z"/>
<path class="q mg" d="M721.3 111.0h8.6v8.6h-8.6z"/>
<path class="q mg" d="M721.9 115.0h8.6v8.6h-8.6z"/>
<path class="q mg" d="M722.4 122.1h8.6v8.6h-8.6z"/>
<path class="q mg" d="M723.2 122.1h8.6v8.6h-8.6z"/>
<path class="q mg" d="M723.5 116.6h8.6v8.6h-8.6z"/>
<path class="q mg" d="M724.5 117.3h8.6v8.6h-8.6z"/>
<path class="q mg" d="M724.7 117.0h8.6v8.6h-8.6z"/>
<path class="q mg" d="M725.6 122.4h8.6v8.6h-8.6z"/>
<path class="q mg" d="M726.1 117.3h8.6v8.6h-8.6z"/>
<path class="q mg" d="M726.6 116.0h8.6v8.6h-8.6z"/>
<path class="q mg" d="M727.5 112.8h8.6v8.6h-8.6z"/>
<path class="q mg" d="M727.8 114.3h8.6v8.6h-8.6z"/>
<path class="q mg" d="M728.6 121.2h8.6v8.6h-8.6z"/>
<path class="q mg" d="M729.1 113.6h8.6v8.6h-8.6z"/>
<path class="q mg" d="M729.9 124.4h8.6v8.6h-8.6z"/>
<path class="q mg" d="M730.4 122.8h8.6v8.6h-8.6z"/>
<path class="q mg" d="M731.2 123.2h8.6v8.6h-8.6z"/>
<path class="q mg" d="M731.6 116.2h8.6v8.6h-8.6z"/>
<path class="q mg" d="M732.0 128.2h8.6v8.6h-8.6z"/>
<path class="q mg" d="M732.6 128.6h8.6v8.6h-8.6z"/>
<path class="q mg" d="M733.6 113.4h8.6v8.6h-8.6z"/>
<path class="q mg" d="M734.0 114.2h8.6v8.6h-8.6z"/>
<path class="q mg" d="M734.3 113.3h8.6v8.6h-8.6z"/>
<path class="q mg" d="M735.0 116.7h8.6v8.6h-8.6z"/>
<path class="q mg" d="M735.6 113.0h8.6v8.6h-8.6z"/>
<path class="q mg" d="M736.6 117.2h8.6v8.6h-8.6z"/>
<path class="q mg" d="M737.1 121.5h8.6v8.6h-8.6z"/>
<path class="q mg" d="M737.2 129.8h8.6v8.6h-8.6z"/>
<path class="q mg" d="M738.1 117.1h8.6v8.6h-8.6z"/>
<path class="q mg" d="M739.0 119.3h8.6v8.6h-8.6z"/>
<path class="q mg" d="M739.0 118.5h8.6v8.6h-8.6z"/>
<path class="q mg" d="M740.1 113.9h8.6v8.6h-8.6z"/>
<path class="q mg" d="M740.4 132.1h8.6v8.6h-8.6z"/>
<path class="q mg" d="M741.2 127.1h8.6v8.6h-8.6z"/>
<path class="q mg" d="M741.8 133.0h8.6v8.6h-8.6z"/>
<path class="q mg" d="M742.4 129.3h8.6v8.6h-8.6z"/>
<path class="q mg" d="M743.1 129.6h8.6v8.6h-8.6z"/>
<path class="q mg" d="M743.5 121.1h8.6v8.6h-8.6z"/>
<path class="q mg" d="M743.9 119.1h8.6v8.6h-8.6z"/>
<path class="q mg" d="M744.7 122.5h8.6v8.6h-8.6z"/>
<path class="q mg" d="M745.4 136.7h8.6v8.6h-8.6z"/>
<path class="q mg" d="M745.7 126.3h8.6v8.6h-8.6z"/>
<path class="q mg" d="M746.6 121.7h8.6v8.6h-8.6z"/>
<path class="q mg" d="M747.3 129.2h8.6v8.6h-8.6z"/>
<path class="q mg" d="M747.4 137.4h8.6v8.6h-8.6z"/>
<path class="q mg" d="M748.3 133.8h8.6v8.6h-8.6z"/>
<path class="q mg" d="M749.1 139.5h8.6v8.6h-8.6z"/>
<path class="q mg" d="M749.4 120.5h8.6v8.6h-8.6z"/>
<path class="q mg" d="M750.3 140.6h8.6v8.6h-8.6z"/>
<path class="q mg" d="M750.4 126.5h8.6v8.6h-8.6z"/>
<path class="q mg" d="M751.1 137.1h8.6v8.6h-8.6z"/>
<path class="q mg" d="M752.1 126.6h8.6v8.6h-8.6z"/>
<path class="q mg" d="M752.4 140.9h8.6v8.6h-8.6z"/>
<path class="q mg" d="M753.1 127.3h8.6v8.6h-8.6z"/>
<path class="q mg" d="M753.7 123.6h8.6v8.6h-8.6z"/>
<path class="q mg" d="M754.4 131.9h8.6v8.6h-8.6z"/>
<path class="q mg" d="M754.8 140.3h8.6v8.6h-8.6z"/>
<path class="q mg" d="M755.4 146.3h8.6v8.6h-8.6z"/>
<path class="q mg" d="M755.9 136.1h8.6v8.6h-8.6z"/>
<path class="q mg" d="M756.9 141.5h8.6v8.6h-8.6z"/>
<path class="q mg" d="M757.3 139.7h8.6v8.6h-8.6z"/>
<path class="q mg" d="M757.7 134.4h8.6v8.6h-8.6z"/>
<path class="q mg" d="M758.2 128.0h8.6v8.6h-8.6z"/>
<path class="q mg" d="M759.3 140.8h8.6v8.6h-8.6z"/>
<path class="q mg" d="M759.8 140.0h8.6v8.6h-8.6z"/>
<path class="q mg" d="M760.0 134.1h8.6v8.6h-8.6z"/>
<path class="q mg" d="M760.8 148.8h8.6v8.6h-8.6z"/>
<path class="q mg" d="M761.7 150.2h8.6v8.6h-8.6z"/>
<path class="q mg" d="M762.3 139.0h8.6v8.6h-8.6z"/>
<path class="q mg" d="M762.5 149.2h8.6v8.6h-8.6z"/>
<path class="q mg" d="M763.0 146.7h8.6v8.6h-8.6z"/>
<path class="q mg" d="M763.7 143.8h8.6v8.6h-8.6z"/>
<path class="q mg" d="M764.6 148.0h8.6v8.6h-8.6z"/>
<path class="q mg" d="M764.8 145.0h8.6v8.6h-8.6z"/>
<path class="q mg" d="M765.8 148.4h8.6v8.6h-8.6z"/>
<path class="q mg" d="M766.2 152.9h8.6v8.6h-8.6z"/>
<path class="q mg" d="M767.0 146.0h8.6v8.6h-8.6z"/>
<path class="q mg" d="M767.6 142.5h8.6v8.6h-8.6z"/>
<path class="q mg" d="M768.2 137.8h8.6v8.6h-8.6z"/>
<path class="q mg" d="M768.8 147.9h8.6v8.6h-8.6z"/>
<path class="q mg" d="M769.5 148.2h8.6v8.6h-8.6z"/>
<path class="q mg" d="M769.8 151.0h8.6v8.6h-8.6z"/>
<path class="q mg" d="M770.6 142.0h8.6v8.6h-8.6z"/>
<path class="q mg" d="M771.1 141.5h8.6v8.6h-8.6z"/>
<path class="q mg" d="M771.6 148.3h8.6v8.6h-8.6z"/>
<path class="q mg" d="M772.0 154.3h8.6v8.6h-8.6z"/>
<path class="q mg" d="M772.6 142.1h8.6v8.6h-8.6z"/>
<path class="q mg" d="M773.4 138.0h8.6v8.6h-8.6z"/>
<path class="q mg" d="M774.1 143.5h8.6v8.6h-8.6z"/>
<path class="q mg" d="M774.9 148.3h8.6v8.6h-8.6z"/>
<path class="q mg" d="M775.1 149.6h8.6v8.6h-8.6z"/>
<path class="q mg" d="M775.9 142.3h8.6v8.6h-8.6z"/>
<path class="q mg" d="M776.2 144.2h8.6v8.6h-8.6z"/>
<path class="q mg" d="M777.1 150.8h8.6v8.6h-8.6z"/>
<path class="q mg" d="M777.8 143.1h8.6v8.6h-8.6z"/>
<path class="q mg" d="M778.2 155.9h8.6v8.6h-8.6z"/>
<path class="q mg" d="M778.6 148.2h8.6v8.6h-8.6z"/>
<path class="q mg" d="M779.4 153.1h8.6v8.6h-8.6z"/>
<path class="q mg" d="M780.1 161.2h8.6v8.6h-8.6z"/>
<path class="q mg" d="M780.4 159.8h8.6v8.6h-8.6z"/>
<path class="q mg" d="M781.2 154.9h8.6v8.6h-8.6z"/>
<path class="q mg" d="M781.7 152.3h8.6v8.6h-8.6z"/>
<path class="q mg" d="M782.2 144.1h8.6v8.6h-8.6z"/>
<path class="q mg" d="M783.2 157.0h8.6v8.6h-8.6z"/>
<path class="q mg" d="M783.4 145.8h8.6v8.6h-8.6z"/>
<path class="q mg" d="M784.2 160.8h8.6v8.6h-8.6z"/>
<path class="q mg" d="M784.8 155.7h8.6v8.6h-8.6z"/>
<path class="q mg" d="M785.4 163.2h8.6v8.6h-8.6z"/>
<path class="q dg" d="M730.2 136.4h8.6v8.6h-8.6z"/>
<path class="q dg" d="M731.1 138.6h8.6v8.6h-8.6z"/>
<path class="q dg" d="M734.4 137.5h8.6v8.6h-8.6z"/>
<path class="q dg" d="M735.6 140.9h8.6v8.6h-8.6z"/>
<path class="q dg" d="M738.1 139.6h8.6v8.6h-8.6z"/>
<path class="q dg" d="M740.1 141.1h8.6v8.6h-8.6z"/>
<path class="q dg" d="M743.3 143.8h8.6v8.6h-8.6z"/>
<path class="q dg" d="M743.7 142.1h8.6v8.6h-8.6z"/>
<path class="q dg" d="M746.8 141.5h8.6v8.6h-8.6z"/>
<path class="q dg" d="M747.6 146.8h8.6v8.6h-8.6z"/>
<path class="q dg" d="M751.7 150.9h8.6v8.6h-8.6z"/>
<path class="q dg" d="M751.9 148.4h8.6v8.6h-8.6z"/>
<path class="q dg" d="M755.4 147.9h8.6v8.6h-8.6z"/>
<path class="q dg" d="M756.3 151.2h8.6v8.6h-8.6z"/>
<path class="q dg" d="M758.2 149.2h8.6v8.6h-8.6z"/>
<path class="q dg" d="M761.4 154.1h8.6v8.6h-8.6z"/>
<path class="q dg" d="M763.8 158.5h8.6v8.6h-8.6z"/>
<path class="q dg" d="M766.2 156.8h8.6v8.6h-8.6z"/>
<path class="q dg" d="M767.1 157.0h8.6v8.6h-8.6z"/>
<path class="q dg" d="M768.5 158.5h8.6v8.6h-8.6z"/>
<path class="q dg" d="M771.3 163.3h8.6v8.6h-8.6z"/>
<path class="q dg" d="M773.3 171.5h8.6v8.6h-8.6z"/>
<path class="q dg" d="M776.5 163.5h8.6v8.6h-8.6z"/>
<path class="q dg" d="M777.2 165.9h8.6v8.6h-8.6z"/>
<path class="q dg" d="M779.1 162.4h8.6v8.6h-8.6z"/>
<path class="q dg" d="M782.5 163.0h8.6v8.6h-8.6z"/>
<path class="q dg" d="M785.1 163.6h8.6v8.6h-8.6z"/>
<path class="q dg" d="M787.2 168.9h8.6v8.6h-8.6z"/>
<path class="q dg" d="M788.4 169.5h8.6v8.6h-8.6z"/>
<path class="q dg" d="M790.5 170.2h8.6v8.6h-8.6z"/>
<path class="q dg" d="M791.7 165.7h8.6v8.6h-8.6z"/>
<path class="q dg" d="M795.2 173.2h8.6v8.6h-8.6z"/>
<path class="q dg" d="M797.2 168.4h8.6v8.6h-8.6z"/>
<path class="q dg" d="M798.7 175.8h8.6v8.6h-8.6z"/>
<path class="q dg" d="M800.6 171.5h8.6v8.6h-8.6z"/>
<path class="q dg" d="M803.3 179.9h8.6v8.6h-8.6z"/>
<path class="q dg" d="M805.8 173.7h8.6v8.6h-8.6z"/>
<path class="q dg" d="M806.1 180.6h8.6v8.6h-8.6z"/>
<path class="q dg" d="M809.5 176.7h8.6v8.6h-8.6z"/>
<path class="q dg" d="M811.6 186.6h8.6v8.6h-8.6z"/>
<path class="q dg" d="M813.2 177.7h8.6v8.6h-8.6z"/>
<path class="q dg" d="M816.4 178.2h8.6v8.6h-8.6z"/>
<path class="q dg" d="M818.3 180.9h8.6v8.6h-8.6z"/>
<path class="q dg" d="M819.3 189.0h8.6v8.6h-8.6z"/>
<path class="q dg" d="M822.5 183.6h8.6v8.6h-8.6z"/>
<path class="q dg" d="M822.9 181.6h8.6v8.6h-8.6z"/>
<path class="q dg" d="M826.1 191.0h8.6v8.6h-8.6z"/>
<path class="q dg" d="M828.9 191.6h8.6v8.6h-8.6z"/>
<path class="q dg" d="M830.2 196.9h8.6v8.6h-8.6z"/>
<path class="q dg" d="M832.8 192.8h8.6v8.6h-8.6z"/>
<path class="q dg" d="M834.7 193.8h8.6v8.6h-8.6z"/>
<path class="q dg" d="M835.5 198.1h8.6v8.6h-8.6z"/>
<path class="q dg" d="M838.7 204.4h8.6v8.6h-8.6z"/>
<path class="q dg" d="M840.9 194.0h8.6v8.6h-8.6z"/>
<path class="q dg" d="M843.2 200.9h8.6v8.6h-8.6z"/>
<path class="q dg" d="M843.9 200.2h8.6v8.6h-8.6z"/>
<path class="q dg" d="M847.7 204.3h8.6v8.6h-8.6z"/>
<path class="q dg" d="M848.8 196.3h8.6v8.6h-8.6z"/>
<path class="q dg" d="M851.4 210.8h8.6v8.6h-8.6z"/>
<path class="q dg" d="M853.9 201.4h8.6v8.6h-8.6z"/>
<path class="q dg" d="M854.4 205.1h8.6v8.6h-8.6z"/>
<path class="q dg" d="M856.8 207.4h8.6v8.6h-8.6z"/>
<path class="q dg" d="M859.3 210.8h8.6v8.6h-8.6z"/>
<path class="q dg" d="M862.4 207.1h8.6v8.6h-8.6z"/>
<path class="q dg" d="M864.1 211.5h8.6v8.6h-8.6z"/>
<path class="q dg" d="M864.9 212.4h8.6v8.6h-8.6z"/>
<path class="t dt" d="M705.8 94.1h10.4l-5.2 8.6z"/>
<path class="t dt" d="M706.3 102.1h10.4l-5.2 8.6z"/>
<path class="t dt" d="M706.8 109.1h10.4l-5.2 8.6z"/>
<path class="t dt" d="M705.8 116.1h10.4l-5.2 8.6z"/>
<path class="t dt" d="M743.1 131.7h10.4l-5.2 8.6z"/>
<path class="t dt" d="M744.5 133.2h10.4l-5.2 8.6z"/>
<path class="t dt" d="M746.1 136.2h10.4l-5.2 8.6z"/>
<path class="t dt" d="M746.3 126.3h10.4l-5.2 8.6z"/>
<path class="t dt" d="M747.4 135.9h10.4l-5.2 8.6z"/>
<path class="t dt" d="M749.3 133.2h10.4l-5.2 8.6z"/>
<path class="t dt" d="M750.1 130.3h10.4l-5.2 8.6z"/>
<path class="t dt" d="M770.3 154.1h10.4l-5.2 8.6z"/>
<path class="t mt" d="M731.5 121.7h10.4l-5.2 8.6z"/>
<path class="t mt" d="M733.1 118.3h10.4l-5.2 8.6z"/>
<path class="t mt" d="M733.7 121.6h10.4l-5.2 8.6z"/>
<path class="t mt" d="M735.4 117.0h10.4l-5.2 8.6z"/>
<path class="t mt" d="M735.9 121.8h10.4l-5.2 8.6z"/>
<path class="t mt" d="M737.1 121.7h10.4l-5.2 8.6z"/>
<path class="t mt" d="M738.4 120.2h10.4l-5.2 8.6z"/>
<path class="t mt" d="M740.0 120.0h10.4l-5.2 8.6z"/>
<path class="t mt" d="M741.2 115.3h10.4l-5.2 8.6z"/>
<path class="t mt" d="M742.8 115.9h10.4l-5.2 8.6z"/>
<path class="t mt" d="M743.5 118.6h10.4l-5.2 8.6z"/>
<path class="t mt" d="M745.1 120.3h10.4l-5.2 8.6z"/>
<path class="t mt" d="M746.3 120.9h10.4l-5.2 8.6z"/>
<path class="t mt" d="M773.8 139.5h10.4l-5.2 8.6z"/>
<path class="t mt" d="M775.4 138.5h10.4l-5.2 8.6z"/>
<path class="t mt" d="M778.0 143.1h10.4l-5.2 8.6z"/>
<path class="t mt" d="M779.6 142.1h10.4l-5.2 8.6z"/>
<path class="t mt" d="M784.8 147.1h10.4l-5.2 8.6z"/>
<path class="t mt" d="M786.4 146.1h10.4l-5.2 8.6z"/>
<path class="t mt" d="M788.2 151.2h10.4l-5.2 8.6z"/>
<path class="t mt" d="M789.8 150.2h10.4l-5.2 8.6z"/>
<path class="t mt" d="M791.4 149.2h10.4l-5.2 8.6z"/>
<path class="t mt" d="M792.9 153.7h10.4l-5.2 8.6z"/>
<path class="t mt" d="M794.5 152.7h10.4l-5.2 8.6z"/>
<path class="t mt" d="M796.1 151.7h10.4l-5.2 8.6z"/>
<path class="t mt" d="M794.6 156.0h10.4l-5.2 8.6z"/>
<path class="t mt" d="M796.2 155.0h10.4l-5.2 8.6z"/>
<path class="t mt" d="M797.8 154.0h10.4l-5.2 8.6z"/>
<path class="t mt" d="M799.4 153.0h10.4l-5.2 8.6z"/>
<path class="t mt" d="M803.2 162.7h10.4l-5.2 8.6z"/>
<path class="t mt" d="M804.8 161.7h10.4l-5.2 8.6z"/>
<path class="t mt" d="M803.5 162.3h10.4l-5.2 8.6z"/>
<path class="t mt" d="M805.1 161.3h10.4l-5.2 8.6z"/>
<path class="t mt" d="M806.7 160.3h10.4l-5.2 8.6z"/>
<path class="t mt" d="M808.3 159.3h10.4l-5.2 8.6z"/>
<path class="t mt" d="M812.5 168.3h10.4l-5.2 8.6z"/>
<path class="t mt" d="M814.1 167.3h10.4l-5.2 8.6z"/>
<path class="t mt" d="M815.7 166.3h10.4l-5.2 8.6z"/>
<path class="t mt" d="M818.4 173.6h10.4l-5.2 8.6z"/>
<path class="t mt" d="M820.0 172.6h10.4l-5.2 8.6z"/>
<path class="t mt" d="M821.6 171.6h10.4l-5.2 8.6z"/>
<path class="t mt" d="M820.2 174.6h10.4l-5.2 8.6z"/>
<path class="t mt" d="M821.8 173.6h10.4l-5.2 8.6z"/>
<path class="t mt" d="M823.4 172.6h10.4l-5.2 8.6z"/>
<path class="t mt" d="M825.0 171.6h10.4l-5.2 8.6z"/>
<path class="t mt" d="M826.6 170.6h10.4l-5.2 8.6z"/>
<path class="t mt" d="M824.7 177.0h10.4l-5.2 8.6z"/>
<path class="t mt" d="M826.3 176.0h10.4l-5.2 8.6z"/>
<path class="t mt" d="M827.9 175.0h10.4l-5.2 8.6z"/>
<path class="t mt" d="M829.5 174.0h10.4l-5.2 8.6z"/>
<path class="t mt" d="M831.1 180.4h10.4l-5.2 8.6z"/>
<path class="t mt" d="M832.7 179.4h10.4l-5.2 8.6z"/>
<path class="t mt" d="M834.3 178.4h10.4l-5.2 8.6z"/>
<path class="t mt" d="M835.9 177.4h10.4l-5.2 8.6z"/>
<path class="t mt" d="M832.5 181.4h10.4l-5.2 8.6z"/>
<path class="t mt" d="M834.1 180.4h10.4l-5.2 8.6z"/>
<path class="t mt" d="M835.7 179.4h10.4l-5.2 8.6z"/>
<path class="t mt" d="M837.3 178.4h10.4l-5.2 8.6z"/>
<path class="t mt" d="M838.9 183.3h10.4l-5.2 8.6z"/>
<path class="t mt" d="M840.5 182.3h10.4l-5.2 8.6z"/>
<path class="t mt" d="M842.1 181.3h10.4l-5.2 8.6z"/>
<path class="t mt" d="M846.7 189.6h10.4l-5.2 8.6z"/>
<path class="t mt" d="M848.3 188.6h10.4l-5.2 8.6z"/>
<path class="t mt" d="M849.9 187.6h10.4l-5.2 8.6z"/>
<path class="t mt" d="M850.3 191.2h10.4l-5.2 8.6z"/>
<path class="t mt" d="M851.9 190.2h10.4l-5.2 8.6z"/>
<path class="t mt" d="M853.5 189.2h10.4l-5.2 8.6z"/>
<path class="t mt" d="M853.8 195.3h10.4l-5.2 8.6z"/>
<path class="t mt" d="M855.4 194.3h10.4l-5.2 8.6z"/>
<path class="t mt" d="M857.0 193.3h10.4l-5.2 8.6z"/>
<path class="t mt" d="M858.6 192.3h10.4l-5.2 8.6z"/>
<path class="t mt" d="M861.0 201.4h10.4l-5.2 8.6z"/>
<path class="t mt" d="M862.6 200.4h10.4l-5.2 8.6z"/>
<path class="t mt" d="M864.2 199.4h10.4l-5.2 8.6z"/>
<path class="t cy" d="M879.1 210.2h10.4l-5.2 8.6z"/>
<path class="t cy" d="M879.6 209.7h10.4l-5.2 8.6z"/>
<path class="t cy" d="M880.6 211.1h10.4l-5.2 8.6z"/>
<path class="t cy" d="M881.1 211.7h10.4l-5.2 8.6z"/>
<path class="t cy" d="M881.9 215.4h10.4l-5.2 8.6z"/>
<path class="t cy" d="M882.2 216.0h10.4l-5.2 8.6z"/>
<path class="t cy" d="M883.0 216.1h10.4l-5.2 8.6z"/>
<path class="t cy" d="M883.5 213.3h10.4l-5.2 8.6z"/>
<path class="t cy" d="M884.0 212.4h10.4l-5.2 8.6z"/>
<path class="t cy" d="M884.6 212.3h10.4l-5.2 8.6z"/>
<path class="t cy" d="M885.6 211.1h10.4l-5.2 8.6z"/>
<path class="t cy" d="M886.0 217.7h10.4l-5.2 8.6z"/>
<path class="t cy" d="M886.8 215.7h10.4l-5.2 8.6z"/>
<path class="t cy" d="M887.3 218.9h10.4l-5.2 8.6z"/>
<path class="t cy" d="M887.9 211.7h10.4l-5.2 8.6z"/>
<path class="t cy" d="M888.7 216.6h10.4l-5.2 8.6z"/>
<path class="t cy" d="M889.4 212.3h10.4l-5.2 8.6z"/>
<path class="t cy" d="M890.2 214.9h10.4l-5.2 8.6z"/>
<path class="t cy" d="M891.0 215.9h10.4l-5.2 8.6z"/>
<path class="t cy" d="M891.0 212.3h10.4l-5.2 8.6z"/>
<path class="t cy" d="M891.8 220.0h10.4l-5.2 8.6z"/>
<path class="t cy" d="M892.6 222.2h10.4l-5.2 8.6z"/>
<path class="t cy" d="M893.5 223.3h10.4l-5.2 8.6z"/>
<path class="t cy" d="M893.9 224.4h10.4l-5.2 8.6z"/>
<path class="t cy" d="M894.6 215.5h10.4l-5.2 8.6z"/>
<path class="t cy" d="M895.0 217.5h10.4l-5.2 8.6z"/>
<path class="t cy" d="M895.5 225.9h10.4l-5.2 8.6z"/>
<path class="t cy" d="M896.4 217.9h10.4l-5.2 8.6z"/>
<path class="t cy" d="M897.3 220.9h10.4l-5.2 8.6z"/>
<path class="t cy" d="M897.5 225.4h10.4l-5.2 8.6z"/>
<path class="t cy" d="M898.1 228.7h10.4l-5.2 8.6z"/>
<path class="t cy" d="M899.2 218.5h10.4l-5.2 8.6z"/>
<path class="t cy" d="M899.6 218.4h10.4l-5.2 8.6z"/>
<path class="t cy" d="M900.5 221.9h10.4l-5.2 8.6z"/>
<path class="t cy" d="M900.9 228.6h10.4l-5.2 8.6z"/>
<path class="t cy" d="M901.7 225.7h10.4l-5.2 8.6z"/>
<path class="t cy" d="M901.9 223.7h10.4l-5.2 8.6z"/>
<path class="t cy" d="M902.5 222.4h10.4l-5.2 8.6z"/>
<path class="t cy" d="M903.6 228.5h10.4l-5.2 8.6z"/>
<path class="t cy" d="M904.0 229.7h10.4l-5.2 8.6z"/>
<path class="t cy" d="M904.7 226.3h10.4l-5.2 8.6z"/>
<path class="t cy" d="M905.3 226.7h10.4l-5.2 8.6z"/>
<path class="t cy" d="M905.9 228.1h10.4l-5.2 8.6z"/>
<path class="t cy" d="M906.8 235.5h10.4l-5.2 8.6z"/>
<path class="t cy" d="M907.5 229.6h10.4l-5.2 8.6z"/>
<path class="t cy" d="M908.2 234.9h10.4l-5.2 8.6z"/>
<path class="t cy" d="M908.3 235.5h10.4l-5.2 8.6z"/>
<path class="t cy" d="M908.9 232.8h10.4l-5.2 8.6z"/>
<path class="t cy" d="M909.8 235.3h10.4l-5.2 8.6z"/>
<path class="t cy" d="M910.7 238.6h10.4l-5.2 8.6z"/>
<path class="t cy" d="M911.4 230.6h10.4l-5.2 8.6z"/>
<path class="t cy" d="M911.5 226.2h10.4l-5.2 8.6z"/>
<path class="t cy" d="M912.7 230.2h10.4l-5.2 8.6z"/>
<path class="t cy" d="M912.9 227.5h10.4l-5.2 8.6z"/>
<path class="t cy" d="M913.6 230.8h10.4l-5.2 8.6z"/>
<path class="t cy" d="M914.5 229.2h10.4l-5.2 8.6z"/>
<path class="t cy" d="M914.9 238.3h10.4l-5.2 8.6z"/>
<path class="t cy" d="M915.6 229.4h10.4l-5.2 8.6z"/>
<path class="t cy" d="M916.2 230.9h10.4l-5.2 8.6z"/>
<path class="t cy" d="M916.6 234.8h10.4l-5.2 8.6z"/>
<path class="t cy" d="M917.4 237.7h10.4l-5.2 8.6z"/>
<path class="t cy" d="M918.0 230.2h10.4l-5.2 8.6z"/>
<path class="t cy" d="M918.8 234.6h10.4l-5.2 8.6z"/>
<path class="t cy" d="M919.2 235.1h10.4l-5.2 8.6z"/>
<path class="t cy" d="M920.2 237.9h10.4l-5.2 8.6z"/>
<path class="t cy" d="M921.0 235.7h10.4l-5.2 8.6z"/>
<path class="t cy" d="M921.6 232.0h10.4l-5.2 8.6z"/>
<path class="t cy" d="M922.2 239.0h10.4l-5.2 8.6z"/>
<path class="t cy" d="M922.6 233.5h10.4l-5.2 8.6z"/>
<path class="t cy" d="M923.1 233.5h10.4l-5.2 8.6z"/>
<path class="t cy" d="M923.8 234.8h10.4l-5.2 8.6z"/>
<path class="t cy" d="M924.3 237.4h10.4l-5.2 8.6z"/>
<path class="t cy" d="M925.5 233.7h10.4l-5.2 8.6z"/>
<path class="t cy" d="M925.9 235.2h10.4l-5.2 8.6z"/>
<path class="t cy" d="M926.5 235.6h10.4l-5.2 8.6z"/>
<line x1="116.9" y1="159.0" x2="432.0" y2="294.7" stroke="#000" stroke-width="2.8" stroke-linecap="round"/>
<line x1="623.2" y1="48.6" x2="931.4" y2="248.2" stroke="#000" stroke-width="2.8" stroke-linecap="round"/>
<rect x="61.4" y="28.7" width="419.6" height="302.0" class="ax" fill="none"/>
<rect x="576.7" y="28.6" width="417.8" height="300.6" class="ax" fill="none"/>
<line x1="56.7" y1="330.7" x2="61.4" y2="330.7" class="ax"/>
<text x="53.1" y="336.9" class="tk" text-anchor="end">1.0</text>
<line x1="56.7" y1="280.4" x2="61.4" y2="280.4" class="ax"/>
<text x="53.1" y="286.6" class="tk" text-anchor="end">1.1</text>
<line x1="56.7" y1="230.0" x2="61.4" y2="230.0" class="ax"/>
<text x="53.1" y="236.2" class="tk" text-anchor="end">1.2</text>
<line x1="56.7" y1="179.7" x2="61.4" y2="179.7" class="ax"/>
<text x="53.1" y="185.9" class="tk" text-anchor="end">1.3</text>
<line x1="56.7" y1="129.4" x2="61.4" y2="129.4" class="ax"/>
<text x="53.1" y="135.6" class="tk" text-anchor="end">1.4</text>
<line x1="56.7" y1="79.0" x2="61.4" y2="79.0" class="ax"/>
<text x="53.1" y="85.2" class="tk" text-anchor="end">1.5</text>
<line x1="56.7" y1="28.7" x2="61.4" y2="28.7" class="ax"/>
<text x="53.1" y="34.9" class="tk" text-anchor="end">1.6</text>
<line x1="61.4" y1="330.7" x2="61.4" y2="334.9" class="ax"/>
<text x="67.0" y="359.0" class="tk" text-anchor="middle">-1200</text>
<line x1="131.3" y1="330.7" x2="131.3" y2="334.9" class="ax"/>
<text x="136.9" y="359.0" class="tk" text-anchor="middle">-1000</text>
<line x1="201.3" y1="330.7" x2="201.3" y2="334.9" class="ax"/>
<text x="206.9" y="359.0" class="tk" text-anchor="middle">-800</text>
<line x1="271.2" y1="330.7" x2="271.2" y2="334.9" class="ax"/>
<text x="276.8" y="359.0" class="tk" text-anchor="middle">-600</text>
<line x1="341.1" y1="330.7" x2="341.1" y2="334.9" class="ax"/>
<text x="346.7" y="359.0" class="tk" text-anchor="middle">-400</text>
<line x1="411.1" y1="330.7" x2="411.1" y2="334.9" class="ax"/>
<text x="416.7" y="359.0" class="tk" text-anchor="middle">-200</text>
<line x1="481.0" y1="330.7" x2="481.0" y2="334.9" class="ax"/>
<text x="484.8" y="359.0" class="tk" text-anchor="middle">0</text>
<line x1="572.0" y1="329.2" x2="576.7" y2="329.2" class="ax"/>
<text x="569.5" y="335.4" class="tk" text-anchor="end">0.4</text>
<line x1="572.0" y1="279.1" x2="576.7" y2="279.1" class="ax"/>
<text x="569.5" y="285.3" class="tk" text-anchor="end">0.5</text>
<line x1="572.0" y1="229.0" x2="576.7" y2="229.0" class="ax"/>
<text x="569.5" y="235.2" class="tk" text-anchor="end">0.6</text>
<line x1="572.0" y1="178.9" x2="576.7" y2="178.9" class="ax"/>
<text x="569.5" y="185.1" class="tk" text-anchor="end">0.7</text>
<line x1="572.0" y1="128.8" x2="576.7" y2="128.8" class="ax"/>
<text x="569.5" y="135.0" class="tk" text-anchor="end">0.8</text>
<line x1="572.0" y1="78.7" x2="576.7" y2="78.7" class="ax"/>
<text x="569.5" y="84.9" class="tk" text-anchor="end">0.9</text>
<line x1="572.0" y1="28.6" x2="576.7" y2="28.6" class="ax"/>
<text x="569.5" y="34.8" class="tk" text-anchor="end">1.0</text>
<line x1="576.7" y1="329.2" x2="576.7" y2="333.4" class="ax"/>
<text x="580.5" y="357.0" class="tk" text-anchor="middle">0</text>
<line x1="646.3" y1="329.2" x2="646.3" y2="333.4" class="ax"/>
<text x="651.9" y="357.0" class="tk" text-anchor="middle">200</text>
<line x1="716.0" y1="329.2" x2="716.0" y2="333.4" class="ax"/>
<text x="721.6" y="357.0" class="tk" text-anchor="middle">400</text>
<line x1="785.6" y1="329.2" x2="785.6" y2="333.4" class="ax"/>
<text x="791.2" y="357.0" class="tk" text-anchor="middle">600</text>
<line x1="855.2" y1="329.2" x2="855.2" y2="333.4" class="ax"/>
<text x="860.8" y="357.0" class="tk" text-anchor="middle">800</text>
<line x1="924.9" y1="329.2" x2="924.9" y2="333.4" class="ax"/>
<text x="930.5" y="357.0" class="tk" text-anchor="middle">1000</text>
<line x1="994.5" y1="329.2" x2="994.5" y2="333.4" class="ax"/>
<text x="1000.1" y="357.0" class="tk" text-anchor="middle">1200</text>
<text x="119.8" y="282.6" class="lg" letter-spacing="-0.3"><tspan font-style="italic">S</tspan> (g<tspan dx="-1.0">·</tspan><tspan dx="-1.2">kg</tspan><tspan dy="-5" font-size="9">-1</tspan><tspan dy="5">)</tspan></text>
<line x1="104.4" y1="286.7" x2="180.6" y2="286.7" stroke="#000" stroke-width="1.9"/>
<text x="112.9" y="300.4" class="lg" text-anchor="middle">10</text>
<path class="q dg" d="M108.9 303.4h8.6v8.6h-8.6z"/>
<path class="t dt" d="M108.0 318.1h10.4l-5.2 8.6z"/>
<text x="142.1" y="300.4" class="lg" text-anchor="middle">20</text>
<path class="q mg" d="M137.2 303.4h8.6v8.6h-8.6z"/>
<path class="t mt" d="M136.3 318.1h10.4l-5.2 8.6z"/>
<text x="171.9" y="300.4" class="lg" text-anchor="middle">40</text>
<path class="q bg" d="M166.1 303.4h8.6v8.6h-8.6z"/>
<path class="t cy" d="M165.2 318.1h10.4l-5.2 8.6z"/>
<text x="101.0" y="312.1" class="lg2" text-anchor="end"><tspan font-style="italic">Re</tspan> = 5</text>
<text x="101.0" y="326.8" class="lg2" text-anchor="end"><tspan font-style="italic">Re</tspan> = 1</text>
<text x="636.8" y="281.0" class="lg" letter-spacing="-0.3"><tspan font-style="italic">S</tspan> (g<tspan dx="-1.0">·</tspan><tspan dx="-1.2">kg</tspan><tspan dy="-5" font-size="9">-1</tspan><tspan dy="5">)</tspan></text>
<line x1="621.4" y1="285.1" x2="697.6" y2="285.1" stroke="#000" stroke-width="1.9"/>
<text x="629.9" y="298.8" class="lg" text-anchor="middle">10</text>
<path class="q dg" d="M625.9 301.8h8.6v8.6h-8.6z"/>
<path class="t dt" d="M625.0 316.5h10.4l-5.2 8.6z"/>
<text x="659.1" y="298.8" class="lg" text-anchor="middle">20</text>
<path class="q mg" d="M654.2 301.8h8.6v8.6h-8.6z"/>
<path class="t mt" d="M653.3 316.5h10.4l-5.2 8.6z"/>
<text x="688.9" y="298.8" class="lg" text-anchor="middle">40</text>
<path class="q bg" d="M683.1 301.8h8.6v8.6h-8.6z"/>
<path class="t cy" d="M682.2 316.5h10.4l-5.2 8.6z"/>
<text x="618.0" y="310.5" class="lg2" text-anchor="end"><tspan font-style="italic">Re</tspan> = 5</text>
<text x="618.0" y="325.2" class="lg2" text-anchor="end"><tspan font-style="italic">Re</tspan> = 1</text>
<text x="61.2" y="21.4" class="ti">(a) bright band</text>
<text x="577.4" y="21.4" class="ti">(b) dark band</text>
<text transform="translate(22.6,176.9) rotate(-90)" class="al" text-anchor="middle">grayscale ratio <tspan font-style="italic">I</tspan>/<tspan font-style="italic">I</tspan><tspan font-size="15" dy="4">0</tspan></text>
<text transform="translate(539.8,176.9) rotate(-90)" class="al" text-anchor="middle">grayscale ratio <tspan font-style="italic">I</tspan>/<tspan font-style="italic">I</tspan><tspan font-size="15" dy="4">0</tspan></text>
<text x="271.2" y="384.6" class="al" text-anchor="middle">salinity gradient ∂<tspan font-style="italic">S</tspan>/∂<tspan font-style="italic">y</tspan> (g<tspan dx="-1.6">·</tspan><tspan dx="-1.8">kg</tspan><tspan font-size="15" dy="-10.5">-1</tspan><tspan dy="10.5" dx="-1.5">·</tspan><tspan dx="-2.5">µm</tspan><tspan font-size="15" dy="-10.5">-1</tspan><tspan dy="10.5">)</tspan></text>
<text x="786.0" y="384.6" class="al" text-anchor="middle">salinity gradient ∂<tspan font-style="italic">S</tspan>/∂<tspan font-style="italic">y</tspan> (g<tspan dx="-1.6">·</tspan><tspan dx="-1.8">kg</tspan><tspan font-size="15" dy="-10.5">-1</tspan><tspan dy="10.5" dx="-1.5">·</tspan><tspan dx="-2.5">µm</tspan><tspan font-size="15" dy="-10.5">-1</tspan><tspan dy="10.5">)</tspan></text>
</svg>
</body></html>
